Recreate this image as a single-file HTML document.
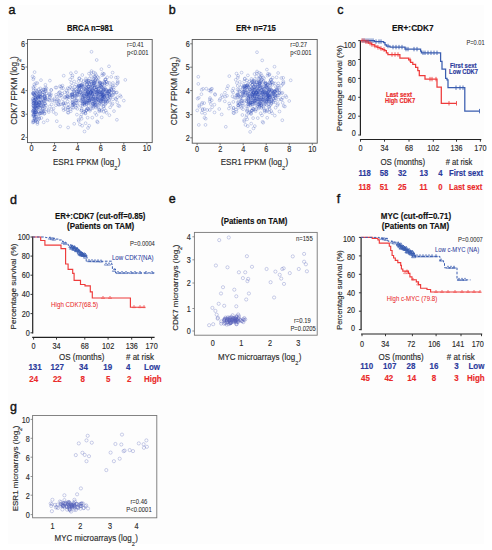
<!DOCTYPE html>
<html><head><meta charset="utf-8"><style>
html,body{margin:0;padding:0;background:#fff;}
svg{display:block;}
text{font-family:"Liberation Sans",sans-serif;}
</style></head><body>
<svg width="492" height="550" viewBox="0 0 492 550">
<rect x="0" y="0" width="492" height="550" fill="#fff"/>
<rect x="8" y="5" width="476" height="539" fill="#fdfdfd"/>
<text transform="translate(8.60,13.50) scale(1.0000,1)" font-size="12.50" fill="#111" stroke="#111" stroke-width="0.4">a</text>
<text transform="translate(168.80,13.60) scale(1.0000,1)" font-size="12.50" fill="#111" stroke="#111" stroke-width="0.4">b</text>
<text transform="translate(337.20,13.80) scale(1.0000,1)" font-size="12.50" fill="#111" stroke="#111" stroke-width="0.4">c</text>
<text transform="translate(10.00,203.50) scale(1.0000,1)" font-size="12.50" fill="#111" stroke="#111" stroke-width="0.4">d</text>
<text transform="translate(168.80,202.80) scale(1.0000,1)" font-size="12.50" fill="#111" stroke="#111" stroke-width="0.4">e</text>
<text transform="translate(336.80,203.20) scale(1.0000,1)" font-size="12.50" fill="#111" stroke="#111" stroke-width="0.4">f</text>
<text transform="translate(10.00,410.50) scale(1.0000,1)" font-size="12.50" fill="#111" stroke="#111" stroke-width="0.4">g</text>
<rect x="27.5" y="39.5" width="124.70" height="103.10" fill="none" stroke="#555" stroke-width="0.9"/>
<line x1="25.50" y1="43.60" x2="27.50" y2="43.60" stroke="#555" stroke-width="0.8"/>
<text transform="translate(25.10,46.50) scale(0.8273,1)" font-size="8.80" text-anchor="end" fill="#2b2b2b" stroke="#2b2b2b" stroke-width="0.15">6</text>
<line x1="25.50" y1="67.00" x2="27.50" y2="67.00" stroke="#555" stroke-width="0.8"/>
<text transform="translate(25.10,69.90) scale(0.8273,1)" font-size="8.80" text-anchor="end" fill="#2b2b2b" stroke="#2b2b2b" stroke-width="0.15">5</text>
<line x1="25.50" y1="90.60" x2="27.50" y2="90.60" stroke="#555" stroke-width="0.8"/>
<text transform="translate(25.10,93.50) scale(0.8273,1)" font-size="8.80" text-anchor="end" fill="#2b2b2b" stroke="#2b2b2b" stroke-width="0.15">4</text>
<line x1="25.50" y1="114.20" x2="27.50" y2="114.20" stroke="#555" stroke-width="0.8"/>
<text transform="translate(25.10,117.10) scale(0.8273,1)" font-size="8.80" text-anchor="end" fill="#2b2b2b" stroke="#2b2b2b" stroke-width="0.15">3</text>
<line x1="25.50" y1="137.40" x2="27.50" y2="137.40" stroke="#555" stroke-width="0.8"/>
<text transform="translate(25.10,140.30) scale(0.8273,1)" font-size="8.80" text-anchor="end" fill="#2b2b2b" stroke="#2b2b2b" stroke-width="0.15">2</text>
<line x1="31.40" y1="142.60" x2="31.40" y2="144.60" stroke="#555" stroke-width="0.8"/>
<text transform="translate(31.40,151.20) scale(0.8273,1)" font-size="8.80" text-anchor="middle" fill="#2b2b2b" stroke="#2b2b2b" stroke-width="0.15">0</text>
<line x1="54.50" y1="142.60" x2="54.50" y2="144.60" stroke="#555" stroke-width="0.8"/>
<text transform="translate(54.50,151.20) scale(0.8273,1)" font-size="8.80" text-anchor="middle" fill="#2b2b2b" stroke="#2b2b2b" stroke-width="0.15">2</text>
<line x1="77.60" y1="142.60" x2="77.60" y2="144.60" stroke="#555" stroke-width="0.8"/>
<text transform="translate(77.60,151.20) scale(0.8273,1)" font-size="8.80" text-anchor="middle" fill="#2b2b2b" stroke="#2b2b2b" stroke-width="0.15">4</text>
<line x1="100.70" y1="142.60" x2="100.70" y2="144.60" stroke="#555" stroke-width="0.8"/>
<text transform="translate(100.70,151.20) scale(0.8273,1)" font-size="8.80" text-anchor="middle" fill="#2b2b2b" stroke="#2b2b2b" stroke-width="0.15">6</text>
<line x1="123.80" y1="142.60" x2="123.80" y2="144.60" stroke="#555" stroke-width="0.8"/>
<text transform="translate(123.80,151.20) scale(0.8273,1)" font-size="8.80" text-anchor="middle" fill="#2b2b2b" stroke="#2b2b2b" stroke-width="0.15">8</text>
<line x1="146.90" y1="142.60" x2="146.90" y2="144.60" stroke="#555" stroke-width="0.8"/>
<text transform="translate(146.90,151.20) scale(0.8273,1)" font-size="8.80" text-anchor="middle" fill="#2b2b2b" stroke="#2b2b2b" stroke-width="0.15">10</text>
<text transform="translate(67.00,31.30) scale(0.9091,1)" font-size="8.47" font-weight="bold" fill="#111" stroke="#111" stroke-width="0.15">BRCA n=981</text>
<g fill="none" stroke="#3550b8" stroke-width="0.5" stroke-opacity="0.5"><circle cx="36.6" cy="116.6" r="1.4"/><circle cx="34.2" cy="94.8" r="1.4"/><circle cx="34.8" cy="117.7" r="1.4"/><circle cx="42.3" cy="99.9" r="1.4"/><circle cx="35.8" cy="116.5" r="1.4"/><circle cx="38.4" cy="97.6" r="1.4"/><circle cx="43.1" cy="89.5" r="1.4"/><circle cx="33.5" cy="105.6" r="1.4"/><circle cx="33.3" cy="79.3" r="1.4"/><circle cx="35.9" cy="112.3" r="1.4"/><circle cx="36.0" cy="103.6" r="1.4"/><circle cx="34.8" cy="108.0" r="1.4"/><circle cx="39.4" cy="101.9" r="1.4"/><circle cx="36.7" cy="93.8" r="1.4"/><circle cx="37.4" cy="122.2" r="1.4"/><circle cx="34.4" cy="118.6" r="1.4"/><circle cx="35.1" cy="119.1" r="1.4"/><circle cx="36.1" cy="112.2" r="1.4"/><circle cx="34.6" cy="72.1" r="1.4"/><circle cx="39.9" cy="96.3" r="1.4"/><circle cx="38.7" cy="107.4" r="1.4"/><circle cx="37.2" cy="105.5" r="1.4"/><circle cx="36.6" cy="103.6" r="1.4"/><circle cx="35.9" cy="99.0" r="1.4"/><circle cx="34.8" cy="86.1" r="1.4"/><circle cx="35.1" cy="97.8" r="1.4"/><circle cx="34.9" cy="95.2" r="1.4"/><circle cx="34.2" cy="94.7" r="1.4"/><circle cx="39.9" cy="92.1" r="1.4"/><circle cx="35.2" cy="103.2" r="1.4"/><circle cx="38.4" cy="97.0" r="1.4"/><circle cx="33.6" cy="88.4" r="1.4"/><circle cx="38.5" cy="99.1" r="1.4"/><circle cx="36.4" cy="101.8" r="1.4"/><circle cx="34.2" cy="102.8" r="1.4"/><circle cx="33.3" cy="114.6" r="1.4"/><circle cx="45.3" cy="98.8" r="1.4"/><circle cx="42.8" cy="94.9" r="1.4"/><circle cx="40.0" cy="96.9" r="1.4"/><circle cx="39.8" cy="102.8" r="1.4"/><circle cx="33.3" cy="87.1" r="1.4"/><circle cx="44.7" cy="111.4" r="1.4"/><circle cx="41.2" cy="102.2" r="1.4"/><circle cx="38.6" cy="96.0" r="1.4"/><circle cx="49.9" cy="80.6" r="1.4"/><circle cx="39.7" cy="102.8" r="1.4"/><circle cx="35.8" cy="103.3" r="1.4"/><circle cx="37.2" cy="105.7" r="1.4"/><circle cx="40.4" cy="93.6" r="1.4"/><circle cx="43.2" cy="104.0" r="1.4"/><circle cx="38.9" cy="112.1" r="1.4"/><circle cx="32.9" cy="93.6" r="1.4"/><circle cx="33.5" cy="122.2" r="1.4"/><circle cx="38.4" cy="102.2" r="1.4"/><circle cx="38.7" cy="89.3" r="1.4"/><circle cx="38.9" cy="104.5" r="1.4"/><circle cx="43.9" cy="106.1" r="1.4"/><circle cx="49.9" cy="96.6" r="1.4"/><circle cx="37.2" cy="94.7" r="1.4"/><circle cx="36.3" cy="108.6" r="1.4"/><circle cx="41.0" cy="80.1" r="1.4"/><circle cx="44.5" cy="103.5" r="1.4"/><circle cx="45.8" cy="105.4" r="1.4"/><circle cx="32.8" cy="111.3" r="1.4"/><circle cx="45.0" cy="97.5" r="1.4"/><circle cx="37.2" cy="98.1" r="1.4"/><circle cx="32.8" cy="122.5" r="1.4"/><circle cx="33.1" cy="110.6" r="1.4"/><circle cx="32.8" cy="98.8" r="1.4"/><circle cx="35.7" cy="96.8" r="1.4"/><circle cx="35.7" cy="107.8" r="1.4"/><circle cx="40.7" cy="100.3" r="1.4"/><circle cx="33.9" cy="109.3" r="1.4"/><circle cx="41.4" cy="118.0" r="1.4"/><circle cx="33.7" cy="90.3" r="1.4"/><circle cx="36.9" cy="109.3" r="1.4"/><circle cx="36.4" cy="102.9" r="1.4"/><circle cx="37.3" cy="83.1" r="1.4"/><circle cx="42.1" cy="112.2" r="1.4"/><circle cx="36.6" cy="90.7" r="1.4"/><circle cx="35.7" cy="120.4" r="1.4"/><circle cx="47.4" cy="120.4" r="1.4"/><circle cx="39.4" cy="93.5" r="1.4"/><circle cx="42.5" cy="106.3" r="1.4"/><circle cx="39.3" cy="105.8" r="1.4"/><circle cx="44.9" cy="98.7" r="1.4"/><circle cx="40.7" cy="113.5" r="1.4"/><circle cx="40.3" cy="88.4" r="1.4"/><circle cx="38.3" cy="119.7" r="1.4"/><circle cx="37.5" cy="96.2" r="1.4"/><circle cx="33.9" cy="111.4" r="1.4"/><circle cx="33.3" cy="116.3" r="1.4"/><circle cx="40.4" cy="92.3" r="1.4"/><circle cx="34.3" cy="84.3" r="1.4"/><circle cx="36.1" cy="105.9" r="1.4"/><circle cx="38.0" cy="105.8" r="1.4"/><circle cx="37.4" cy="122.1" r="1.4"/><circle cx="41.8" cy="90.4" r="1.4"/><circle cx="37.1" cy="91.4" r="1.4"/><circle cx="35.5" cy="111.6" r="1.4"/><circle cx="36.4" cy="108.3" r="1.4"/><circle cx="35.6" cy="121.2" r="1.4"/><circle cx="36.0" cy="104.6" r="1.4"/><circle cx="42.5" cy="109.2" r="1.4"/><circle cx="38.7" cy="102.8" r="1.4"/><circle cx="36.8" cy="92.6" r="1.4"/><circle cx="37.4" cy="124.0" r="1.4"/><circle cx="41.5" cy="111.4" r="1.4"/><circle cx="41.5" cy="101.2" r="1.4"/><circle cx="45.0" cy="97.0" r="1.4"/><circle cx="35.1" cy="97.5" r="1.4"/><circle cx="33.0" cy="112.0" r="1.4"/><circle cx="41.3" cy="97.0" r="1.4"/><circle cx="42.7" cy="94.6" r="1.4"/><circle cx="42.4" cy="110.4" r="1.4"/><circle cx="38.5" cy="105.6" r="1.4"/><circle cx="36.3" cy="112.1" r="1.4"/><circle cx="41.4" cy="102.3" r="1.4"/><circle cx="34.4" cy="112.7" r="1.4"/><circle cx="43.5" cy="112.1" r="1.4"/><circle cx="34.2" cy="93.8" r="1.4"/><circle cx="35.8" cy="102.3" r="1.4"/><circle cx="33.8" cy="102.6" r="1.4"/><circle cx="37.3" cy="107.9" r="1.4"/><circle cx="43.3" cy="110.9" r="1.4"/><circle cx="35.5" cy="99.3" r="1.4"/><circle cx="35.4" cy="106.7" r="1.4"/><circle cx="34.6" cy="101.1" r="1.4"/><circle cx="36.6" cy="102.6" r="1.4"/><circle cx="34.3" cy="111.9" r="1.4"/><circle cx="35.2" cy="114.4" r="1.4"/><circle cx="47.4" cy="95.8" r="1.4"/><circle cx="33.8" cy="107.2" r="1.4"/><circle cx="35.6" cy="110.7" r="1.4"/><circle cx="35.7" cy="93.5" r="1.4"/><circle cx="34.0" cy="106.0" r="1.4"/><circle cx="40.3" cy="105.8" r="1.4"/><circle cx="36.6" cy="108.5" r="1.4"/><circle cx="35.0" cy="117.0" r="1.4"/><circle cx="39.3" cy="118.3" r="1.4"/><circle cx="33.6" cy="101.1" r="1.4"/><circle cx="35.7" cy="90.2" r="1.4"/><circle cx="40.7" cy="97.2" r="1.4"/><circle cx="36.1" cy="119.8" r="1.4"/><circle cx="39.2" cy="113.7" r="1.4"/><circle cx="40.0" cy="91.8" r="1.4"/><circle cx="33.3" cy="94.2" r="1.4"/><circle cx="33.4" cy="108.4" r="1.4"/><circle cx="40.3" cy="107.8" r="1.4"/><circle cx="36.0" cy="114.4" r="1.4"/><circle cx="48.9" cy="99.7" r="1.4"/><circle cx="33.8" cy="77.7" r="1.4"/><circle cx="33.7" cy="121.5" r="1.4"/><circle cx="44.1" cy="113.8" r="1.4"/><circle cx="35.4" cy="98.9" r="1.4"/><circle cx="39.0" cy="95.4" r="1.4"/><circle cx="33.2" cy="120.6" r="1.4"/><circle cx="35.2" cy="106.9" r="1.4"/><circle cx="33.0" cy="103.3" r="1.4"/><circle cx="34.1" cy="102.7" r="1.4"/><circle cx="42.0" cy="113.4" r="1.4"/><circle cx="37.9" cy="101.0" r="1.4"/><circle cx="34.5" cy="120.3" r="1.4"/><circle cx="39.6" cy="96.5" r="1.4"/><circle cx="33.4" cy="93.8" r="1.4"/><circle cx="34.2" cy="100.6" r="1.4"/><circle cx="42.6" cy="102.4" r="1.4"/><circle cx="43.4" cy="108.5" r="1.4"/><circle cx="34.9" cy="112.3" r="1.4"/><circle cx="37.9" cy="97.6" r="1.4"/><circle cx="40.0" cy="108.2" r="1.4"/><circle cx="44.1" cy="92.6" r="1.4"/><circle cx="47.6" cy="99.6" r="1.4"/><circle cx="33.3" cy="92.8" r="1.4"/><circle cx="33.6" cy="110.5" r="1.4"/><circle cx="34.0" cy="115.9" r="1.4"/><circle cx="34.3" cy="106.4" r="1.4"/><circle cx="33.3" cy="92.9" r="1.4"/><circle cx="39.1" cy="118.9" r="1.4"/><circle cx="33.2" cy="115.1" r="1.4"/><circle cx="33.1" cy="105.9" r="1.4"/><circle cx="34.0" cy="114.4" r="1.4"/><circle cx="36.0" cy="83.1" r="1.4"/><circle cx="41.5" cy="105.9" r="1.4"/><circle cx="40.4" cy="97.2" r="1.4"/><circle cx="44.5" cy="96.1" r="1.4"/><circle cx="35.7" cy="113.1" r="1.4"/><circle cx="43.7" cy="99.7" r="1.4"/><circle cx="33.5" cy="99.9" r="1.4"/><circle cx="33.8" cy="104.2" r="1.4"/><circle cx="39.3" cy="102.1" r="1.4"/><circle cx="34.9" cy="107.9" r="1.4"/><circle cx="40.2" cy="113.0" r="1.4"/><circle cx="42.8" cy="92.0" r="1.4"/><circle cx="41.0" cy="96.1" r="1.4"/><circle cx="39.0" cy="104.6" r="1.4"/><circle cx="34.2" cy="114.9" r="1.4"/><circle cx="38.6" cy="111.8" r="1.4"/><circle cx="34.6" cy="110.3" r="1.4"/><circle cx="43.9" cy="100.6" r="1.4"/><circle cx="34.9" cy="112.4" r="1.4"/><circle cx="38.3" cy="96.5" r="1.4"/><circle cx="34.2" cy="100.1" r="1.4"/><circle cx="40.9" cy="105.6" r="1.4"/><circle cx="33.9" cy="97.5" r="1.4"/><circle cx="44.6" cy="113.4" r="1.4"/><circle cx="49.9" cy="97.6" r="1.4"/><circle cx="32.8" cy="100.6" r="1.4"/><circle cx="44.8" cy="103.5" r="1.4"/><circle cx="37.7" cy="104.8" r="1.4"/><circle cx="36.5" cy="99.5" r="1.4"/><circle cx="33.5" cy="103.3" r="1.4"/><circle cx="38.7" cy="116.8" r="1.4"/><circle cx="35.6" cy="98.0" r="1.4"/><circle cx="39.6" cy="113.5" r="1.4"/><circle cx="74.3" cy="91.2" r="1.4"/><circle cx="67.5" cy="92.1" r="1.4"/><circle cx="59.2" cy="100.9" r="1.4"/><circle cx="45.2" cy="103.7" r="1.4"/><circle cx="46.4" cy="88.3" r="1.4"/><circle cx="59.6" cy="96.2" r="1.4"/><circle cx="61.3" cy="95.4" r="1.4"/><circle cx="49.5" cy="94.4" r="1.4"/><circle cx="70.1" cy="79.4" r="1.4"/><circle cx="46.0" cy="99.9" r="1.4"/><circle cx="45.0" cy="89.7" r="1.4"/><circle cx="67.7" cy="101.5" r="1.4"/><circle cx="53.5" cy="108.6" r="1.4"/><circle cx="56.9" cy="96.6" r="1.4"/><circle cx="62.4" cy="85.6" r="1.4"/><circle cx="70.3" cy="97.6" r="1.4"/><circle cx="48.8" cy="112.0" r="1.4"/><circle cx="56.1" cy="94.8" r="1.4"/><circle cx="49.3" cy="93.6" r="1.4"/><circle cx="43.4" cy="90.0" r="1.4"/><circle cx="71.8" cy="94.5" r="1.4"/><circle cx="70.8" cy="111.2" r="1.4"/><circle cx="63.3" cy="108.1" r="1.4"/><circle cx="59.3" cy="92.3" r="1.4"/><circle cx="74.7" cy="96.5" r="1.4"/><circle cx="72.4" cy="104.8" r="1.4"/><circle cx="67.0" cy="96.0" r="1.4"/><circle cx="56.1" cy="114.0" r="1.4"/><circle cx="71.9" cy="89.2" r="1.4"/><circle cx="67.8" cy="107.6" r="1.4"/><circle cx="67.7" cy="109.9" r="1.4"/><circle cx="45.2" cy="91.2" r="1.4"/><circle cx="54.0" cy="99.9" r="1.4"/><circle cx="54.5" cy="98.5" r="1.4"/><circle cx="63.6" cy="103.1" r="1.4"/><circle cx="73.5" cy="103.0" r="1.4"/><circle cx="64.5" cy="105.2" r="1.4"/><circle cx="61.4" cy="88.2" r="1.4"/><circle cx="60.2" cy="126.4" r="1.4"/><circle cx="63.7" cy="75.7" r="1.4"/><circle cx="65.6" cy="97.0" r="1.4"/><circle cx="43.7" cy="122.3" r="1.4"/><circle cx="62.9" cy="99.2" r="1.4"/><circle cx="55.9" cy="105.2" r="1.4"/><circle cx="44.6" cy="96.0" r="1.4"/><circle cx="46.1" cy="91.0" r="1.4"/><circle cx="51.1" cy="89.9" r="1.4"/><circle cx="59.4" cy="104.7" r="1.4"/><circle cx="74.2" cy="123.8" r="1.4"/><circle cx="63.6" cy="110.1" r="1.4"/><circle cx="69.1" cy="88.6" r="1.4"/><circle cx="67.5" cy="93.5" r="1.4"/><circle cx="44.4" cy="94.2" r="1.4"/><circle cx="58.2" cy="100.8" r="1.4"/><circle cx="48.4" cy="110.3" r="1.4"/><circle cx="44.8" cy="98.4" r="1.4"/><circle cx="73.5" cy="107.8" r="1.4"/><circle cx="62.3" cy="93.8" r="1.4"/><circle cx="54.8" cy="101.5" r="1.4"/><circle cx="61.1" cy="86.7" r="1.4"/><circle cx="52.1" cy="100.2" r="1.4"/><circle cx="43.4" cy="105.6" r="1.4"/><circle cx="50.9" cy="94.0" r="1.4"/><circle cx="67.4" cy="97.4" r="1.4"/><circle cx="55.6" cy="87.5" r="1.4"/><circle cx="44.6" cy="107.1" r="1.4"/><circle cx="74.9" cy="95.6" r="1.4"/><circle cx="72.2" cy="99.8" r="1.4"/><circle cx="56.8" cy="121.2" r="1.4"/><circle cx="50.8" cy="95.5" r="1.4"/><circle cx="59.9" cy="86.2" r="1.4"/><circle cx="58.1" cy="103.9" r="1.4"/><circle cx="74.6" cy="94.0" r="1.4"/><circle cx="46.7" cy="109.2" r="1.4"/><circle cx="63.1" cy="104.2" r="1.4"/><circle cx="44.6" cy="97.1" r="1.4"/><circle cx="60.0" cy="92.2" r="1.4"/><circle cx="64.5" cy="92.3" r="1.4"/><circle cx="57.7" cy="99.6" r="1.4"/><circle cx="56.5" cy="87.6" r="1.4"/><circle cx="68.1" cy="127.5" r="1.4"/><circle cx="73.8" cy="104.3" r="1.4"/><circle cx="66.7" cy="98.4" r="1.4"/><circle cx="71.8" cy="94.6" r="1.4"/><circle cx="68.3" cy="104.3" r="1.4"/><circle cx="51.7" cy="104.3" r="1.4"/><circle cx="65.1" cy="109.1" r="1.4"/><circle cx="63.4" cy="103.2" r="1.4"/><circle cx="67.3" cy="96.3" r="1.4"/><circle cx="74.6" cy="92.8" r="1.4"/><circle cx="72.6" cy="97.0" r="1.4"/><circle cx="44.9" cy="100.4" r="1.4"/><circle cx="51.7" cy="109.2" r="1.4"/><circle cx="46.3" cy="93.4" r="1.4"/><circle cx="60.5" cy="95.5" r="1.4"/><circle cx="64.8" cy="97.1" r="1.4"/><circle cx="60.8" cy="104.3" r="1.4"/><circle cx="58.4" cy="104.7" r="1.4"/><circle cx="49.8" cy="106.5" r="1.4"/><circle cx="70.1" cy="87.1" r="1.4"/><circle cx="45.4" cy="87.5" r="1.4"/><circle cx="63.1" cy="88.2" r="1.4"/><circle cx="67.8" cy="96.7" r="1.4"/><circle cx="51.3" cy="90.1" r="1.4"/><circle cx="69.1" cy="107.1" r="1.4"/><circle cx="74.9" cy="89.7" r="1.4"/><circle cx="53.5" cy="112.0" r="1.4"/><circle cx="72.7" cy="102.9" r="1.4"/><circle cx="56.8" cy="101.3" r="1.4"/><circle cx="71.3" cy="95.9" r="1.4"/><circle cx="45.5" cy="89.3" r="1.4"/><circle cx="58.6" cy="93.3" r="1.4"/><circle cx="65.1" cy="103.1" r="1.4"/><circle cx="45.4" cy="84.8" r="1.4"/><circle cx="49.8" cy="100.5" r="1.4"/><circle cx="89.5" cy="99.8" r="1.4"/><circle cx="112.2" cy="95.0" r="1.4"/><circle cx="84.5" cy="89.3" r="1.4"/><circle cx="102.7" cy="94.6" r="1.4"/><circle cx="82.3" cy="83.8" r="1.4"/><circle cx="106.6" cy="112.8" r="1.4"/><circle cx="82.3" cy="75.0" r="1.4"/><circle cx="83.9" cy="111.6" r="1.4"/><circle cx="102.1" cy="96.2" r="1.4"/><circle cx="103.8" cy="111.7" r="1.4"/><circle cx="110.5" cy="86.6" r="1.4"/><circle cx="88.1" cy="100.8" r="1.4"/><circle cx="102.6" cy="99.7" r="1.4"/><circle cx="103.0" cy="98.1" r="1.4"/><circle cx="99.0" cy="109.8" r="1.4"/><circle cx="85.3" cy="113.1" r="1.4"/><circle cx="88.0" cy="100.4" r="1.4"/><circle cx="90.9" cy="93.3" r="1.4"/><circle cx="68.8" cy="97.1" r="1.4"/><circle cx="96.3" cy="106.2" r="1.4"/><circle cx="92.3" cy="117.7" r="1.4"/><circle cx="80.8" cy="105.8" r="1.4"/><circle cx="76.0" cy="84.5" r="1.4"/><circle cx="99.7" cy="92.6" r="1.4"/><circle cx="88.8" cy="80.6" r="1.4"/><circle cx="103.5" cy="89.8" r="1.4"/><circle cx="90.7" cy="98.1" r="1.4"/><circle cx="88.7" cy="95.0" r="1.4"/><circle cx="76.2" cy="95.7" r="1.4"/><circle cx="102.3" cy="92.1" r="1.4"/><circle cx="79.1" cy="94.7" r="1.4"/><circle cx="81.7" cy="108.9" r="1.4"/><circle cx="120.9" cy="96.8" r="1.4"/><circle cx="81.3" cy="110.7" r="1.4"/><circle cx="89.3" cy="100.3" r="1.4"/><circle cx="67.8" cy="112.4" r="1.4"/><circle cx="105.9" cy="102.6" r="1.4"/><circle cx="73.2" cy="89.8" r="1.4"/><circle cx="72.2" cy="77.4" r="1.4"/><circle cx="74.1" cy="103.8" r="1.4"/><circle cx="82.4" cy="99.7" r="1.4"/><circle cx="72.6" cy="105.3" r="1.4"/><circle cx="99.8" cy="83.7" r="1.4"/><circle cx="109.6" cy="83.0" r="1.4"/><circle cx="93.1" cy="90.9" r="1.4"/><circle cx="100.9" cy="100.7" r="1.4"/><circle cx="98.3" cy="90.3" r="1.4"/><circle cx="93.0" cy="96.0" r="1.4"/><circle cx="99.4" cy="103.8" r="1.4"/><circle cx="77.0" cy="94.3" r="1.4"/><circle cx="97.7" cy="106.3" r="1.4"/><circle cx="97.9" cy="91.5" r="1.4"/><circle cx="92.0" cy="89.4" r="1.4"/><circle cx="98.7" cy="92.2" r="1.4"/><circle cx="102.5" cy="96.0" r="1.4"/><circle cx="77.8" cy="94.7" r="1.4"/><circle cx="101.4" cy="94.5" r="1.4"/><circle cx="101.1" cy="93.0" r="1.4"/><circle cx="83.3" cy="112.5" r="1.4"/><circle cx="87.1" cy="102.4" r="1.4"/><circle cx="95.0" cy="77.4" r="1.4"/><circle cx="76.3" cy="102.7" r="1.4"/><circle cx="106.6" cy="81.9" r="1.4"/><circle cx="90.1" cy="93.9" r="1.4"/><circle cx="97.6" cy="77.0" r="1.4"/><circle cx="86.7" cy="103.9" r="1.4"/><circle cx="103.6" cy="101.0" r="1.4"/><circle cx="92.8" cy="79.8" r="1.4"/><circle cx="92.7" cy="94.1" r="1.4"/><circle cx="95.6" cy="103.3" r="1.4"/><circle cx="95.8" cy="89.4" r="1.4"/><circle cx="75.4" cy="100.5" r="1.4"/><circle cx="89.4" cy="89.8" r="1.4"/><circle cx="102.7" cy="94.4" r="1.4"/><circle cx="118.2" cy="105.6" r="1.4"/><circle cx="92.0" cy="86.6" r="1.4"/><circle cx="93.4" cy="99.7" r="1.4"/><circle cx="92.3" cy="94.2" r="1.4"/><circle cx="93.1" cy="85.9" r="1.4"/><circle cx="72.6" cy="94.5" r="1.4"/><circle cx="89.2" cy="96.5" r="1.4"/><circle cx="112.9" cy="83.0" r="1.4"/><circle cx="101.7" cy="117.4" r="1.4"/><circle cx="99.7" cy="110.2" r="1.4"/><circle cx="81.4" cy="101.1" r="1.4"/><circle cx="114.0" cy="111.1" r="1.4"/><circle cx="107.2" cy="77.3" r="1.4"/><circle cx="106.0" cy="89.7" r="1.4"/><circle cx="108.4" cy="98.3" r="1.4"/><circle cx="92.6" cy="90.1" r="1.4"/><circle cx="84.7" cy="96.5" r="1.4"/><circle cx="98.2" cy="97.5" r="1.4"/><circle cx="106.6" cy="94.9" r="1.4"/><circle cx="82.6" cy="97.1" r="1.4"/><circle cx="88.5" cy="103.3" r="1.4"/><circle cx="102.1" cy="75.2" r="1.4"/><circle cx="89.1" cy="95.5" r="1.4"/><circle cx="92.2" cy="105.4" r="1.4"/><circle cx="107.1" cy="91.8" r="1.4"/><circle cx="109.4" cy="93.9" r="1.4"/><circle cx="94.2" cy="76.5" r="1.4"/><circle cx="92.6" cy="90.6" r="1.4"/><circle cx="109.9" cy="94.9" r="1.4"/><circle cx="105.2" cy="101.0" r="1.4"/><circle cx="91.2" cy="99.5" r="1.4"/><circle cx="104.1" cy="96.9" r="1.4"/><circle cx="85.7" cy="90.0" r="1.4"/><circle cx="112.5" cy="103.6" r="1.4"/><circle cx="119.4" cy="106.1" r="1.4"/><circle cx="86.3" cy="103.9" r="1.4"/><circle cx="113.6" cy="87.6" r="1.4"/><circle cx="97.4" cy="81.5" r="1.4"/><circle cx="104.0" cy="94.7" r="1.4"/><circle cx="86.4" cy="110.2" r="1.4"/><circle cx="107.1" cy="96.4" r="1.4"/><circle cx="90.9" cy="93.6" r="1.4"/><circle cx="100.8" cy="86.3" r="1.4"/><circle cx="102.5" cy="73.4" r="1.4"/><circle cx="105.8" cy="103.5" r="1.4"/><circle cx="100.2" cy="103.6" r="1.4"/><circle cx="77.2" cy="91.6" r="1.4"/><circle cx="83.0" cy="100.2" r="1.4"/><circle cx="104.7" cy="83.1" r="1.4"/><circle cx="95.0" cy="102.7" r="1.4"/><circle cx="98.2" cy="107.7" r="1.4"/><circle cx="91.9" cy="95.5" r="1.4"/><circle cx="88.4" cy="86.8" r="1.4"/><circle cx="90.4" cy="98.3" r="1.4"/><circle cx="83.4" cy="87.0" r="1.4"/><circle cx="99.2" cy="111.4" r="1.4"/><circle cx="88.3" cy="98.4" r="1.4"/><circle cx="96.5" cy="115.0" r="1.4"/><circle cx="83.0" cy="98.0" r="1.4"/><circle cx="87.1" cy="94.8" r="1.4"/><circle cx="85.6" cy="123.2" r="1.4"/><circle cx="74.6" cy="97.6" r="1.4"/><circle cx="97.9" cy="99.3" r="1.4"/><circle cx="109.8" cy="97.2" r="1.4"/><circle cx="95.4" cy="90.1" r="1.4"/><circle cx="94.3" cy="81.2" r="1.4"/><circle cx="90.2" cy="102.8" r="1.4"/><circle cx="104.1" cy="97.1" r="1.4"/><circle cx="87.7" cy="93.6" r="1.4"/><circle cx="100.2" cy="94.4" r="1.4"/><circle cx="106.3" cy="99.9" r="1.4"/><circle cx="79.3" cy="100.3" r="1.4"/><circle cx="91.4" cy="72.9" r="1.4"/><circle cx="116.1" cy="92.8" r="1.4"/><circle cx="88.8" cy="97.6" r="1.4"/><circle cx="98.3" cy="100.9" r="1.4"/><circle cx="101.0" cy="97.8" r="1.4"/><circle cx="73.3" cy="104.5" r="1.4"/><circle cx="99.8" cy="82.1" r="1.4"/><circle cx="96.5" cy="92.7" r="1.4"/><circle cx="109.0" cy="66.3" r="1.4"/><circle cx="110.3" cy="97.8" r="1.4"/><circle cx="87.4" cy="81.0" r="1.4"/><circle cx="92.9" cy="103.9" r="1.4"/><circle cx="75.4" cy="105.7" r="1.4"/><circle cx="101.8" cy="92.6" r="1.4"/><circle cx="87.2" cy="93.7" r="1.4"/><circle cx="81.9" cy="87.0" r="1.4"/><circle cx="100.5" cy="82.9" r="1.4"/><circle cx="92.4" cy="81.6" r="1.4"/><circle cx="85.2" cy="82.7" r="1.4"/><circle cx="111.3" cy="88.9" r="1.4"/><circle cx="112.6" cy="72.6" r="1.4"/><circle cx="82.7" cy="101.8" r="1.4"/><circle cx="79.4" cy="88.3" r="1.4"/><circle cx="86.2" cy="110.3" r="1.4"/><circle cx="93.9" cy="105.5" r="1.4"/><circle cx="116.9" cy="92.4" r="1.4"/><circle cx="101.4" cy="101.3" r="1.4"/><circle cx="79.4" cy="90.5" r="1.4"/><circle cx="106.0" cy="99.6" r="1.4"/><circle cx="81.0" cy="97.1" r="1.4"/><circle cx="102.6" cy="98.1" r="1.4"/><circle cx="112.1" cy="86.9" r="1.4"/><circle cx="109.7" cy="101.9" r="1.4"/><circle cx="77.2" cy="105.3" r="1.4"/><circle cx="88.3" cy="82.3" r="1.4"/><circle cx="99.4" cy="91.4" r="1.4"/><circle cx="80.2" cy="91.7" r="1.4"/><circle cx="90.6" cy="92.5" r="1.4"/><circle cx="88.7" cy="106.0" r="1.4"/><circle cx="94.5" cy="85.7" r="1.4"/><circle cx="86.7" cy="90.4" r="1.4"/><circle cx="118.0" cy="82.6" r="1.4"/><circle cx="111.3" cy="95.4" r="1.4"/><circle cx="102.2" cy="100.9" r="1.4"/><circle cx="96.7" cy="100.4" r="1.4"/><circle cx="93.4" cy="106.9" r="1.4"/><circle cx="98.3" cy="96.2" r="1.4"/><circle cx="95.4" cy="98.9" r="1.4"/><circle cx="86.8" cy="87.5" r="1.4"/><circle cx="93.8" cy="96.8" r="1.4"/><circle cx="104.0" cy="73.8" r="1.4"/><circle cx="103.6" cy="89.2" r="1.4"/><circle cx="82.6" cy="103.4" r="1.4"/><circle cx="106.4" cy="90.5" r="1.4"/><circle cx="94.6" cy="87.3" r="1.4"/><circle cx="87.6" cy="117.7" r="1.4"/><circle cx="94.1" cy="83.1" r="1.4"/><circle cx="91.8" cy="92.1" r="1.4"/><circle cx="103.5" cy="74.6" r="1.4"/><circle cx="81.7" cy="89.1" r="1.4"/><circle cx="115.6" cy="98.7" r="1.4"/><circle cx="104.7" cy="83.5" r="1.4"/><circle cx="115.8" cy="85.3" r="1.4"/><circle cx="93.5" cy="98.5" r="1.4"/><circle cx="87.9" cy="92.4" r="1.4"/><circle cx="91.1" cy="82.0" r="1.4"/><circle cx="105.8" cy="101.1" r="1.4"/><circle cx="117.8" cy="81.1" r="1.4"/><circle cx="79.8" cy="85.5" r="1.4"/><circle cx="107.8" cy="82.8" r="1.4"/><circle cx="88.8" cy="88.5" r="1.4"/><circle cx="97.9" cy="99.2" r="1.4"/><circle cx="111.6" cy="90.3" r="1.4"/><circle cx="101.0" cy="92.1" r="1.4"/><circle cx="111.6" cy="89.9" r="1.4"/><circle cx="82.4" cy="106.0" r="1.4"/><circle cx="72.3" cy="102.3" r="1.4"/><circle cx="89.1" cy="101.7" r="1.4"/><circle cx="120.1" cy="95.4" r="1.4"/><circle cx="85.3" cy="97.7" r="1.4"/><circle cx="89.7" cy="84.0" r="1.4"/><circle cx="92.4" cy="106.2" r="1.4"/><circle cx="91.1" cy="81.6" r="1.4"/><circle cx="98.4" cy="95.3" r="1.4"/><circle cx="102.8" cy="91.8" r="1.4"/><circle cx="88.9" cy="98.3" r="1.4"/><circle cx="113.6" cy="91.9" r="1.4"/><circle cx="103.6" cy="99.2" r="1.4"/><circle cx="91.5" cy="71.1" r="1.4"/><circle cx="72.1" cy="85.6" r="1.4"/><circle cx="96.6" cy="93.8" r="1.4"/><circle cx="81.8" cy="84.9" r="1.4"/><circle cx="87.6" cy="89.4" r="1.4"/><circle cx="107.7" cy="98.4" r="1.4"/><circle cx="84.7" cy="104.4" r="1.4"/><circle cx="76.0" cy="107.6" r="1.4"/><circle cx="92.3" cy="85.9" r="1.4"/><circle cx="78.6" cy="119.7" r="1.4"/><circle cx="89.9" cy="86.6" r="1.4"/><circle cx="112.5" cy="85.4" r="1.4"/><circle cx="108.1" cy="91.7" r="1.4"/><circle cx="106.8" cy="90.3" r="1.4"/><circle cx="72.7" cy="94.4" r="1.4"/><circle cx="85.2" cy="102.0" r="1.4"/><circle cx="94.4" cy="104.2" r="1.4"/><circle cx="86.9" cy="81.9" r="1.4"/><circle cx="97.4" cy="96.6" r="1.4"/><circle cx="78.3" cy="91.4" r="1.4"/><circle cx="88.3" cy="93.6" r="1.4"/><circle cx="95.6" cy="104.5" r="1.4"/><circle cx="94.1" cy="101.3" r="1.4"/><circle cx="97.2" cy="92.6" r="1.4"/><circle cx="89.3" cy="83.9" r="1.4"/><circle cx="85.1" cy="111.8" r="1.4"/><circle cx="88.0" cy="94.3" r="1.4"/><circle cx="100.6" cy="94.5" r="1.4"/><circle cx="97.1" cy="99.2" r="1.4"/><circle cx="109.3" cy="100.2" r="1.4"/><circle cx="92.3" cy="97.9" r="1.4"/><circle cx="91.0" cy="91.8" r="1.4"/><circle cx="87.0" cy="95.0" r="1.4"/><circle cx="100.9" cy="100.2" r="1.4"/><circle cx="72.5" cy="95.5" r="1.4"/><circle cx="89.6" cy="102.5" r="1.4"/><circle cx="99.9" cy="88.0" r="1.4"/><circle cx="125.3" cy="79.9" r="1.4"/><circle cx="97.4" cy="91.7" r="1.4"/><circle cx="102.0" cy="84.7" r="1.4"/><circle cx="93.7" cy="96.9" r="1.4"/><circle cx="95.3" cy="73.3" r="1.4"/><circle cx="101.4" cy="85.7" r="1.4"/><circle cx="90.0" cy="84.6" r="1.4"/><circle cx="96.6" cy="92.6" r="1.4"/><circle cx="114.4" cy="92.5" r="1.4"/><circle cx="92.9" cy="101.3" r="1.4"/><circle cx="93.5" cy="81.7" r="1.4"/><circle cx="94.5" cy="83.1" r="1.4"/><circle cx="104.3" cy="96.9" r="1.4"/><circle cx="76.0" cy="72.2" r="1.4"/><circle cx="91.1" cy="96.2" r="1.4"/><circle cx="79.4" cy="87.4" r="1.4"/><circle cx="104.1" cy="89.8" r="1.4"/><circle cx="85.5" cy="113.5" r="1.4"/><circle cx="72.5" cy="107.4" r="1.4"/><circle cx="82.0" cy="93.0" r="1.4"/><circle cx="100.3" cy="101.5" r="1.4"/><circle cx="95.4" cy="100.7" r="1.4"/><circle cx="89.3" cy="89.5" r="1.4"/><circle cx="86.9" cy="96.6" r="1.4"/><circle cx="96.2" cy="87.3" r="1.4"/><circle cx="83.6" cy="93.5" r="1.4"/><circle cx="106.3" cy="101.3" r="1.4"/><circle cx="72.0" cy="93.6" r="1.4"/><circle cx="105.2" cy="79.4" r="1.4"/><circle cx="102.0" cy="98.4" r="1.4"/><circle cx="101.1" cy="87.2" r="1.4"/><circle cx="94.7" cy="94.8" r="1.4"/><circle cx="105.9" cy="79.1" r="1.4"/><circle cx="84.9" cy="96.1" r="1.4"/><circle cx="105.2" cy="79.8" r="1.4"/><circle cx="117.2" cy="102.4" r="1.4"/><circle cx="109.7" cy="96.1" r="1.4"/><circle cx="67.7" cy="88.2" r="1.4"/><circle cx="95.1" cy="97.1" r="1.4"/><circle cx="97.1" cy="87.3" r="1.4"/><circle cx="86.5" cy="93.3" r="1.4"/><circle cx="79.2" cy="86.3" r="1.4"/><circle cx="97.9" cy="93.5" r="1.4"/><circle cx="97.3" cy="86.1" r="1.4"/><circle cx="107.0" cy="84.4" r="1.4"/><circle cx="95.9" cy="104.9" r="1.4"/><circle cx="100.8" cy="83.3" r="1.4"/><circle cx="108.1" cy="93.7" r="1.4"/><circle cx="113.2" cy="95.0" r="1.4"/><circle cx="87.9" cy="92.5" r="1.4"/><circle cx="103.2" cy="95.5" r="1.4"/><circle cx="81.7" cy="110.3" r="1.4"/><circle cx="109.7" cy="91.3" r="1.4"/><circle cx="103.7" cy="97.0" r="1.4"/><circle cx="100.8" cy="91.3" r="1.4"/><circle cx="94.5" cy="102.8" r="1.4"/><circle cx="82.3" cy="85.6" r="1.4"/><circle cx="88.4" cy="80.7" r="1.4"/><circle cx="101.2" cy="96.7" r="1.4"/><circle cx="87.1" cy="108.4" r="1.4"/><circle cx="117.2" cy="97.3" r="1.4"/><circle cx="95.4" cy="80.1" r="1.4"/><circle cx="104.6" cy="87.5" r="1.4"/><circle cx="90.4" cy="92.3" r="1.4"/><circle cx="85.7" cy="89.1" r="1.4"/><circle cx="83.9" cy="95.0" r="1.4"/><circle cx="100.5" cy="85.1" r="1.4"/><circle cx="86.5" cy="93.9" r="1.4"/><circle cx="89.2" cy="100.9" r="1.4"/><circle cx="103.0" cy="88.2" r="1.4"/><circle cx="87.6" cy="92.1" r="1.4"/><circle cx="77.4" cy="103.4" r="1.4"/><circle cx="76.0" cy="101.0" r="1.4"/><circle cx="105.7" cy="91.5" r="1.4"/><circle cx="90.9" cy="91.8" r="1.4"/><circle cx="90.4" cy="92.6" r="1.4"/><circle cx="77.7" cy="95.4" r="1.4"/><circle cx="83.2" cy="93.5" r="1.4"/><circle cx="93.7" cy="92.0" r="1.4"/><circle cx="79.1" cy="78.6" r="1.4"/><circle cx="85.1" cy="98.1" r="1.4"/><circle cx="89.9" cy="100.0" r="1.4"/><circle cx="77.3" cy="93.2" r="1.4"/><circle cx="104.8" cy="95.6" r="1.4"/><circle cx="68.1" cy="107.6" r="1.4"/><circle cx="96.1" cy="107.6" r="1.4"/><circle cx="84.7" cy="102.0" r="1.4"/><circle cx="85.4" cy="91.0" r="1.4"/><circle cx="105.7" cy="110.7" r="1.4"/><circle cx="74.2" cy="81.5" r="1.4"/><circle cx="100.1" cy="92.2" r="1.4"/><circle cx="83.4" cy="95.6" r="1.4"/><circle cx="72.5" cy="75.5" r="1.4"/><circle cx="98.4" cy="88.5" r="1.4"/><circle cx="96.2" cy="79.1" r="1.4"/><circle cx="93.8" cy="93.7" r="1.4"/><circle cx="82.1" cy="98.0" r="1.4"/><circle cx="94.7" cy="82.6" r="1.4"/><circle cx="84.8" cy="105.1" r="1.4"/><circle cx="82.7" cy="104.2" r="1.4"/><circle cx="109.4" cy="115.2" r="1.4"/><circle cx="88.2" cy="86.8" r="1.4"/><circle cx="101.7" cy="98.9" r="1.4"/><circle cx="89.8" cy="109.4" r="1.4"/><circle cx="81.6" cy="118.8" r="1.4"/><circle cx="97.0" cy="99.0" r="1.4"/><circle cx="83.6" cy="103.1" r="1.4"/><circle cx="83.0" cy="98.9" r="1.4"/><circle cx="89.3" cy="78.6" r="1.4"/><circle cx="85.1" cy="96.6" r="1.4"/><circle cx="93.8" cy="85.4" r="1.4"/><circle cx="100.2" cy="82.9" r="1.4"/><circle cx="96.9" cy="91.3" r="1.4"/><circle cx="98.9" cy="91.7" r="1.4"/><circle cx="92.1" cy="98.9" r="1.4"/><circle cx="73.9" cy="91.1" r="1.4"/><circle cx="86.6" cy="94.2" r="1.4"/><circle cx="110.1" cy="107.3" r="1.4"/><circle cx="102.5" cy="90.8" r="1.4"/><circle cx="72.2" cy="97.2" r="1.4"/><circle cx="78.8" cy="85.9" r="1.4"/><circle cx="93.6" cy="78.5" r="1.4"/><circle cx="88.7" cy="86.8" r="1.4"/><circle cx="95.1" cy="112.9" r="1.4"/><circle cx="101.2" cy="104.6" r="1.4"/><circle cx="77.1" cy="88.4" r="1.4"/><circle cx="77.4" cy="108.8" r="1.4"/><circle cx="95.8" cy="98.8" r="1.4"/><circle cx="80.9" cy="85.2" r="1.4"/><circle cx="94.7" cy="87.8" r="1.4"/><circle cx="109.8" cy="91.4" r="1.4"/><circle cx="123.8" cy="100.6" r="1.4"/><circle cx="106.1" cy="81.7" r="1.4"/><circle cx="78.8" cy="88.9" r="1.4"/><circle cx="71.3" cy="82.6" r="1.4"/><circle cx="97.6" cy="94.0" r="1.4"/><circle cx="92.4" cy="99.1" r="1.4"/><circle cx="103.4" cy="91.0" r="1.4"/><circle cx="89.2" cy="125.7" r="1.4"/><circle cx="101.7" cy="87.3" r="1.4"/><circle cx="108.7" cy="90.6" r="1.4"/><circle cx="82.1" cy="94.3" r="1.4"/><circle cx="85.9" cy="78.5" r="1.4"/><circle cx="99.0" cy="100.4" r="1.4"/><circle cx="80.7" cy="86.9" r="1.4"/><circle cx="97.1" cy="121.4" r="1.4"/><circle cx="79.4" cy="85.9" r="1.4"/><circle cx="72.9" cy="101.3" r="1.4"/><circle cx="98.3" cy="88.8" r="1.4"/><circle cx="115.9" cy="77.6" r="1.4"/><circle cx="93.6" cy="82.7" r="1.4"/><circle cx="101.6" cy="87.4" r="1.4"/><circle cx="109.3" cy="91.0" r="1.4"/><circle cx="104.3" cy="82.2" r="1.4"/><circle cx="92.5" cy="87.3" r="1.4"/><circle cx="82.3" cy="94.3" r="1.4"/><circle cx="93.5" cy="91.0" r="1.4"/><circle cx="117.3" cy="83.6" r="1.4"/><circle cx="92.0" cy="90.6" r="1.4"/><circle cx="99.5" cy="83.2" r="1.4"/><circle cx="101.9" cy="93.4" r="1.4"/><circle cx="103.1" cy="101.6" r="1.4"/><circle cx="74.9" cy="86.9" r="1.4"/><circle cx="90.5" cy="92.4" r="1.4"/><circle cx="76.9" cy="100.3" r="1.4"/><circle cx="86.8" cy="100.4" r="1.4"/><circle cx="116.3" cy="99.2" r="1.4"/><circle cx="106.9" cy="93.2" r="1.4"/><circle cx="103.6" cy="106.8" r="1.4"/><circle cx="95.0" cy="92.0" r="1.4"/><circle cx="96.7" cy="89.5" r="1.4"/><circle cx="104.0" cy="88.9" r="1.4"/><circle cx="94.0" cy="102.6" r="1.4"/><circle cx="92.0" cy="94.4" r="1.4"/><circle cx="101.4" cy="69.2" r="1.4"/><circle cx="108.6" cy="91.8" r="1.4"/><circle cx="101.7" cy="109.6" r="1.4"/><circle cx="92.6" cy="104.1" r="1.4"/><circle cx="101.2" cy="110.8" r="1.4"/><circle cx="97.7" cy="122.3" r="1.4"/><circle cx="117.7" cy="77.4" r="1.4"/><circle cx="78.3" cy="86.8" r="1.4"/><circle cx="93.7" cy="72.5" r="1.4"/><circle cx="109.5" cy="90.6" r="1.4"/><circle cx="95.5" cy="84.3" r="1.4"/><circle cx="81.7" cy="84.8" r="1.4"/><circle cx="98.1" cy="102.4" r="1.4"/><circle cx="86.4" cy="101.9" r="1.4"/><circle cx="89.0" cy="73.6" r="1.4"/><circle cx="91.4" cy="90.4" r="1.4"/><circle cx="83.6" cy="81.2" r="1.4"/><circle cx="98.6" cy="77.9" r="1.4"/><circle cx="76.2" cy="100.2" r="1.4"/><circle cx="96.3" cy="89.7" r="1.4"/><circle cx="100.8" cy="86.3" r="1.4"/><circle cx="92.3" cy="93.7" r="1.4"/><circle cx="81.4" cy="95.5" r="1.4"/><circle cx="87.2" cy="83.8" r="1.4"/><circle cx="101.6" cy="95.3" r="1.4"/><circle cx="101.6" cy="99.3" r="1.4"/><circle cx="93.9" cy="98.8" r="1.4"/><circle cx="106.6" cy="93.7" r="1.4"/><circle cx="102.1" cy="94.9" r="1.4"/><circle cx="77.9" cy="87.3" r="1.4"/><circle cx="98.0" cy="86.6" r="1.4"/><circle cx="80.8" cy="116.9" r="1.4"/><circle cx="90.4" cy="88.8" r="1.4"/><circle cx="70.9" cy="73.2" r="1.4"/><circle cx="104.0" cy="81.9" r="1.4"/><circle cx="81.2" cy="85.6" r="1.4"/><circle cx="97.7" cy="80.5" r="1.4"/><circle cx="111.9" cy="104.9" r="1.4"/><circle cx="83.8" cy="103.6" r="1.4"/><circle cx="88.3" cy="96.7" r="1.4"/><circle cx="103.5" cy="106.0" r="1.4"/><circle cx="76.6" cy="91.7" r="1.4"/><circle cx="83.3" cy="90.5" r="1.4"/><circle cx="95.8" cy="80.7" r="1.4"/><circle cx="80.7" cy="100.7" r="1.4"/><circle cx="110.5" cy="89.7" r="1.4"/><circle cx="78.4" cy="91.4" r="1.4"/><circle cx="70.5" cy="109.3" r="1.4"/><circle cx="101.7" cy="84.3" r="1.4"/><circle cx="113.6" cy="92.8" r="1.4"/><circle cx="86.1" cy="80.1" r="1.4"/><circle cx="106.0" cy="93.6" r="1.4"/><circle cx="98.0" cy="97.5" r="1.4"/><circle cx="107.8" cy="93.4" r="1.4"/><circle cx="96.1" cy="75.1" r="1.4"/><circle cx="76.9" cy="114.6" r="1.4"/><circle cx="104.1" cy="108.6" r="1.4"/><circle cx="91.0" cy="76.1" r="1.4"/><circle cx="103.5" cy="94.9" r="1.4"/><circle cx="84.8" cy="91.2" r="1.4"/><circle cx="81.3" cy="114.6" r="1.4"/><circle cx="88.3" cy="92.0" r="1.4"/><circle cx="103.0" cy="95.6" r="1.4"/><circle cx="90.0" cy="110.8" r="1.4"/><circle cx="86.5" cy="102.2" r="1.4"/><circle cx="94.3" cy="88.1" r="1.4"/><circle cx="71.1" cy="94.8" r="1.4"/><circle cx="78.6" cy="81.1" r="1.4"/><circle cx="81.7" cy="89.9" r="1.4"/><circle cx="103.2" cy="91.0" r="1.4"/><circle cx="95.7" cy="105.1" r="1.4"/><circle cx="113.8" cy="89.6" r="1.4"/><circle cx="88.5" cy="90.6" r="1.4"/><circle cx="104.7" cy="85.1" r="1.4"/><circle cx="80.1" cy="92.4" r="1.4"/><circle cx="91.1" cy="87.7" r="1.4"/><circle cx="93.1" cy="108.1" r="1.4"/><circle cx="75.8" cy="96.9" r="1.4"/><circle cx="85.8" cy="100.1" r="1.4"/><circle cx="82.6" cy="86.3" r="1.4"/><circle cx="94.8" cy="99.6" r="1.4"/><circle cx="109.4" cy="94.9" r="1.4"/><circle cx="110.0" cy="94.6" r="1.4"/><circle cx="86.6" cy="84.4" r="1.4"/><circle cx="107.2" cy="97.8" r="1.4"/><circle cx="95.1" cy="76.5" r="1.4"/><circle cx="113.0" cy="99.3" r="1.4"/><circle cx="86.5" cy="84.3" r="1.4"/><circle cx="86.7" cy="109.9" r="1.4"/><circle cx="87.1" cy="88.3" r="1.4"/><circle cx="88.1" cy="91.7" r="1.4"/><circle cx="85.1" cy="102.6" r="1.4"/><circle cx="99.1" cy="102.7" r="1.4"/><circle cx="79.9" cy="92.4" r="1.4"/><circle cx="104.2" cy="96.3" r="1.4"/><circle cx="91.2" cy="101.3" r="1.4"/><circle cx="85.0" cy="98.9" r="1.4"/><circle cx="100.7" cy="99.2" r="1.4"/><circle cx="104.9" cy="104.7" r="1.4"/><circle cx="66.6" cy="90.5" r="1.4"/><circle cx="78.6" cy="85.1" r="1.4"/><circle cx="83.1" cy="101.6" r="1.4"/><circle cx="105.4" cy="88.9" r="1.4"/><circle cx="91.2" cy="84.0" r="1.4"/><circle cx="103.5" cy="95.5" r="1.4"/><circle cx="87.6" cy="108.6" r="1.4"/><circle cx="94.2" cy="84.0" r="1.4"/><circle cx="111.2" cy="76.9" r="1.4"/><circle cx="93.6" cy="83.9" r="1.4"/><circle cx="81.5" cy="80.1" r="1.4"/><circle cx="103.3" cy="103.8" r="1.4"/><circle cx="88.4" cy="96.0" r="1.4"/><circle cx="97.9" cy="96.3" r="1.4"/><circle cx="86.1" cy="87.7" r="1.4"/><circle cx="90.7" cy="108.9" r="1.4"/><circle cx="79.4" cy="78.1" r="1.4"/><circle cx="96.3" cy="94.5" r="1.4"/><circle cx="84.6" cy="103.3" r="1.4"/><circle cx="85.0" cy="86.6" r="1.4"/><circle cx="86.5" cy="81.4" r="1.4"/><circle cx="68.4" cy="112.8" r="1.4"/><circle cx="88.2" cy="109.3" r="1.4"/><circle cx="107.7" cy="101.7" r="1.4"/><circle cx="78.5" cy="92.0" r="1.4"/><circle cx="93.7" cy="103.8" r="1.4"/><circle cx="91.5" cy="51.8" r="1.4"/><circle cx="96.7" cy="60.0" r="1.4"/><circle cx="82.2" cy="125.7" r="1.4"/><circle cx="84.5" cy="131.5" r="1.4"/><circle cx="78.8" cy="121.0" r="1.4"/><circle cx="116.9" cy="119.8" r="1.4"/><circle cx="88.0" cy="128.0" r="1.4"/><circle cx="79.9" cy="124.5" r="1.4"/><circle cx="32.6" cy="76.4" r="1.4"/></g>
<text transform="translate(127.00,47.10) scale(0.9091,1)" font-size="6.49" fill="#2b2b2b" stroke="#2b2b2b" stroke-width="0.05">r=0.41</text>
<text transform="translate(127.00,54.80) scale(0.9091,1)" font-size="6.49" fill="#2b2b2b" stroke="#2b2b2b" stroke-width="0.05">p&lt;0.001</text>
<text transform="translate(52.90,165.00) scale(0.9091,1)" font-size="8.86" fill="#2b2b2b" stroke="#2b2b2b" stroke-width="0.15">ESR1 FPKM (log<tspan font-size="6.20" dx="0.2" dy="4.6">2</tspan><tspan dx="0.3" dy="-4.6">)</tspan></text>
<text transform="translate(17.20,90.50) rotate(-90)" x="0" y="0" font-size="8.2" text-anchor="middle" fill="#2b2b2b" stroke="#2b2b2b" stroke-width="0.15">CDK7 FPKM (log<tspan font-size="5.74" dx="-0.2" dy="3.3">2</tspan><tspan dx="-0.2" dy="-3.3">)</tspan></text>
<rect x="192.2" y="39.5" width="125.00" height="103.70" fill="none" stroke="#555" stroke-width="0.9"/>
<line x1="190.20" y1="43.80" x2="192.20" y2="43.80" stroke="#555" stroke-width="0.8"/>
<text transform="translate(189.80,46.70) scale(0.8273,1)" font-size="8.80" text-anchor="end" fill="#2b2b2b" stroke="#2b2b2b" stroke-width="0.15">6</text>
<line x1="190.20" y1="67.20" x2="192.20" y2="67.20" stroke="#555" stroke-width="0.8"/>
<text transform="translate(189.80,70.10) scale(0.8273,1)" font-size="8.80" text-anchor="end" fill="#2b2b2b" stroke="#2b2b2b" stroke-width="0.15">5</text>
<line x1="190.20" y1="90.60" x2="192.20" y2="90.60" stroke="#555" stroke-width="0.8"/>
<text transform="translate(189.80,93.50) scale(0.8273,1)" font-size="8.80" text-anchor="end" fill="#2b2b2b" stroke="#2b2b2b" stroke-width="0.15">4</text>
<line x1="190.20" y1="114.60" x2="192.20" y2="114.60" stroke="#555" stroke-width="0.8"/>
<text transform="translate(189.80,117.50) scale(0.8273,1)" font-size="8.80" text-anchor="end" fill="#2b2b2b" stroke="#2b2b2b" stroke-width="0.15">3</text>
<line x1="190.20" y1="137.80" x2="192.20" y2="137.80" stroke="#555" stroke-width="0.8"/>
<text transform="translate(189.80,140.70) scale(0.8273,1)" font-size="8.80" text-anchor="end" fill="#2b2b2b" stroke="#2b2b2b" stroke-width="0.15">2</text>
<line x1="197.10" y1="143.20" x2="197.10" y2="145.20" stroke="#555" stroke-width="0.8"/>
<text transform="translate(197.10,151.80) scale(0.8273,1)" font-size="8.80" text-anchor="middle" fill="#2b2b2b" stroke="#2b2b2b" stroke-width="0.15">0</text>
<line x1="220.14" y1="143.20" x2="220.14" y2="145.20" stroke="#555" stroke-width="0.8"/>
<text transform="translate(220.14,151.80) scale(0.8273,1)" font-size="8.80" text-anchor="middle" fill="#2b2b2b" stroke="#2b2b2b" stroke-width="0.15">2</text>
<line x1="243.18" y1="143.20" x2="243.18" y2="145.20" stroke="#555" stroke-width="0.8"/>
<text transform="translate(243.18,151.80) scale(0.8273,1)" font-size="8.80" text-anchor="middle" fill="#2b2b2b" stroke="#2b2b2b" stroke-width="0.15">4</text>
<line x1="266.22" y1="143.20" x2="266.22" y2="145.20" stroke="#555" stroke-width="0.8"/>
<text transform="translate(266.22,151.80) scale(0.8273,1)" font-size="8.80" text-anchor="middle" fill="#2b2b2b" stroke="#2b2b2b" stroke-width="0.15">6</text>
<line x1="289.26" y1="143.20" x2="289.26" y2="145.20" stroke="#555" stroke-width="0.8"/>
<text transform="translate(289.26,151.80) scale(0.8273,1)" font-size="8.80" text-anchor="middle" fill="#2b2b2b" stroke="#2b2b2b" stroke-width="0.15">8</text>
<line x1="312.30" y1="143.20" x2="312.30" y2="145.20" stroke="#555" stroke-width="0.8"/>
<text transform="translate(312.30,151.80) scale(0.8273,1)" font-size="8.80" text-anchor="middle" fill="#2b2b2b" stroke="#2b2b2b" stroke-width="0.15">10</text>
<text transform="translate(236.00,31.30) scale(0.9091,1)" font-size="8.58" font-weight="bold" fill="#111" stroke="#111" stroke-width="0.15">ER+ n=715</text>
<g fill="none" stroke="#3550b8" stroke-width="0.5" stroke-opacity="0.5"><circle cx="204.5" cy="109.1" r="1.4"/><circle cx="198.8" cy="97.8" r="1.4"/><circle cx="202.6" cy="109.0" r="1.4"/><circle cx="205.7" cy="118.7" r="1.4"/><circle cx="209.9" cy="99.5" r="1.4"/><circle cx="205.0" cy="113.7" r="1.4"/><circle cx="199.1" cy="105.4" r="1.4"/><circle cx="197.6" cy="98.6" r="1.4"/><circle cx="201.7" cy="104.1" r="1.4"/><circle cx="199.4" cy="106.8" r="1.4"/><circle cx="203.1" cy="88.8" r="1.4"/><circle cx="204.2" cy="103.1" r="1.4"/><circle cx="201.9" cy="112.7" r="1.4"/><circle cx="209.8" cy="110.0" r="1.4"/><circle cx="202.2" cy="102.8" r="1.4"/><circle cx="197.2" cy="110.4" r="1.4"/><circle cx="202.7" cy="110.0" r="1.4"/><circle cx="201.4" cy="94.2" r="1.4"/><circle cx="207.2" cy="110.0" r="1.4"/><circle cx="214.4" cy="104.7" r="1.4"/><circle cx="210.0" cy="98.0" r="1.4"/><circle cx="204.5" cy="117.8" r="1.4"/><circle cx="205.5" cy="124.9" r="1.4"/><circle cx="206.3" cy="88.7" r="1.4"/><circle cx="211.1" cy="89.2" r="1.4"/><circle cx="198.8" cy="124.9" r="1.4"/><circle cx="198.3" cy="83.9" r="1.4"/><circle cx="201.7" cy="89.7" r="1.4"/><circle cx="209.8" cy="101.5" r="1.4"/><circle cx="212.1" cy="107.3" r="1.4"/><circle cx="239.9" cy="91.6" r="1.4"/><circle cx="233.1" cy="92.5" r="1.4"/><circle cx="224.8" cy="101.3" r="1.4"/><circle cx="210.9" cy="104.1" r="1.4"/><circle cx="212.0" cy="88.7" r="1.4"/><circle cx="225.2" cy="96.6" r="1.4"/><circle cx="227.0" cy="95.8" r="1.4"/><circle cx="215.2" cy="94.8" r="1.4"/><circle cx="235.7" cy="79.8" r="1.4"/><circle cx="211.7" cy="100.3" r="1.4"/><circle cx="210.6" cy="90.1" r="1.4"/><circle cx="233.3" cy="101.9" r="1.4"/><circle cx="219.2" cy="109.0" r="1.4"/><circle cx="222.5" cy="97.0" r="1.4"/><circle cx="228.0" cy="86.0" r="1.4"/><circle cx="235.9" cy="98.0" r="1.4"/><circle cx="214.5" cy="112.4" r="1.4"/><circle cx="221.7" cy="95.2" r="1.4"/><circle cx="214.9" cy="94.0" r="1.4"/><circle cx="209.1" cy="90.4" r="1.4"/><circle cx="237.4" cy="94.9" r="1.4"/><circle cx="236.4" cy="111.6" r="1.4"/><circle cx="228.9" cy="108.5" r="1.4"/><circle cx="224.9" cy="92.7" r="1.4"/><circle cx="240.3" cy="96.9" r="1.4"/><circle cx="238.0" cy="105.2" r="1.4"/><circle cx="232.6" cy="96.4" r="1.4"/><circle cx="221.7" cy="114.4" r="1.4"/><circle cx="237.5" cy="89.6" r="1.4"/><circle cx="233.4" cy="108.0" r="1.4"/><circle cx="233.3" cy="110.3" r="1.4"/><circle cx="210.9" cy="91.6" r="1.4"/><circle cx="219.6" cy="100.3" r="1.4"/><circle cx="220.1" cy="98.9" r="1.4"/><circle cx="229.2" cy="103.5" r="1.4"/><circle cx="239.1" cy="103.4" r="1.4"/><circle cx="230.1" cy="105.6" r="1.4"/><circle cx="227.0" cy="88.6" r="1.4"/><circle cx="225.8" cy="126.8" r="1.4"/><circle cx="229.3" cy="76.1" r="1.4"/><circle cx="255.1" cy="100.2" r="1.4"/><circle cx="277.6" cy="95.4" r="1.4"/><circle cx="250.0" cy="89.7" r="1.4"/><circle cx="268.2" cy="95.0" r="1.4"/><circle cx="247.9" cy="84.2" r="1.4"/><circle cx="272.1" cy="113.2" r="1.4"/><circle cx="247.9" cy="75.4" r="1.4"/><circle cx="249.4" cy="112.0" r="1.4"/><circle cx="267.6" cy="96.6" r="1.4"/><circle cx="269.3" cy="112.1" r="1.4"/><circle cx="276.0" cy="87.0" r="1.4"/><circle cx="253.7" cy="101.2" r="1.4"/><circle cx="268.1" cy="100.1" r="1.4"/><circle cx="268.5" cy="98.5" r="1.4"/><circle cx="264.5" cy="110.2" r="1.4"/><circle cx="250.9" cy="113.5" r="1.4"/><circle cx="253.5" cy="100.8" r="1.4"/><circle cx="256.4" cy="93.7" r="1.4"/><circle cx="234.4" cy="97.5" r="1.4"/><circle cx="261.8" cy="106.6" r="1.4"/><circle cx="257.8" cy="118.1" r="1.4"/><circle cx="246.3" cy="106.2" r="1.4"/><circle cx="241.5" cy="84.9" r="1.4"/><circle cx="265.3" cy="93.0" r="1.4"/><circle cx="254.4" cy="81.0" r="1.4"/><circle cx="269.0" cy="90.2" r="1.4"/><circle cx="256.3" cy="98.5" r="1.4"/><circle cx="254.3" cy="95.4" r="1.4"/><circle cx="241.8" cy="96.1" r="1.4"/><circle cx="267.8" cy="92.5" r="1.4"/><circle cx="244.7" cy="95.1" r="1.4"/><circle cx="247.2" cy="109.3" r="1.4"/><circle cx="286.4" cy="97.2" r="1.4"/><circle cx="246.8" cy="111.1" r="1.4"/><circle cx="254.8" cy="100.7" r="1.4"/><circle cx="233.4" cy="112.8" r="1.4"/><circle cx="271.4" cy="103.0" r="1.4"/><circle cx="238.8" cy="90.2" r="1.4"/><circle cx="237.8" cy="77.8" r="1.4"/><circle cx="239.7" cy="104.2" r="1.4"/><circle cx="247.9" cy="100.1" r="1.4"/><circle cx="238.2" cy="105.7" r="1.4"/><circle cx="265.3" cy="84.1" r="1.4"/><circle cx="275.1" cy="83.4" r="1.4"/><circle cx="258.6" cy="91.3" r="1.4"/><circle cx="266.4" cy="101.1" r="1.4"/><circle cx="263.9" cy="90.7" r="1.4"/><circle cx="258.5" cy="96.4" r="1.4"/><circle cx="264.9" cy="104.2" r="1.4"/><circle cx="242.5" cy="94.7" r="1.4"/><circle cx="263.2" cy="106.7" r="1.4"/><circle cx="263.4" cy="91.9" r="1.4"/><circle cx="257.5" cy="89.8" r="1.4"/><circle cx="264.2" cy="92.6" r="1.4"/><circle cx="268.0" cy="96.4" r="1.4"/><circle cx="243.4" cy="95.1" r="1.4"/><circle cx="266.9" cy="94.9" r="1.4"/><circle cx="266.6" cy="93.4" r="1.4"/><circle cx="248.9" cy="112.9" r="1.4"/><circle cx="252.7" cy="102.8" r="1.4"/><circle cx="260.5" cy="77.8" r="1.4"/><circle cx="241.9" cy="103.1" r="1.4"/><circle cx="272.1" cy="82.3" r="1.4"/><circle cx="255.6" cy="94.3" r="1.4"/><circle cx="263.1" cy="77.4" r="1.4"/><circle cx="252.3" cy="104.3" r="1.4"/><circle cx="269.1" cy="101.4" r="1.4"/><circle cx="258.3" cy="80.2" r="1.4"/><circle cx="258.2" cy="94.5" r="1.4"/><circle cx="261.1" cy="103.7" r="1.4"/><circle cx="261.3" cy="89.8" r="1.4"/><circle cx="241.0" cy="100.9" r="1.4"/><circle cx="254.9" cy="90.2" r="1.4"/><circle cx="268.2" cy="94.8" r="1.4"/><circle cx="283.7" cy="106.0" r="1.4"/><circle cx="257.6" cy="87.0" r="1.4"/><circle cx="258.9" cy="100.1" r="1.4"/><circle cx="257.8" cy="94.6" r="1.4"/><circle cx="258.7" cy="86.3" r="1.4"/><circle cx="238.2" cy="94.9" r="1.4"/><circle cx="254.8" cy="96.9" r="1.4"/><circle cx="278.4" cy="83.4" r="1.4"/><circle cx="267.2" cy="117.8" r="1.4"/><circle cx="265.2" cy="110.6" r="1.4"/><circle cx="246.9" cy="101.5" r="1.4"/><circle cx="279.5" cy="111.5" r="1.4"/><circle cx="272.7" cy="77.7" r="1.4"/><circle cx="271.5" cy="90.1" r="1.4"/><circle cx="273.9" cy="98.7" r="1.4"/><circle cx="258.2" cy="90.5" r="1.4"/><circle cx="250.2" cy="96.9" r="1.4"/><circle cx="263.8" cy="97.9" r="1.4"/><circle cx="272.1" cy="95.3" r="1.4"/><circle cx="248.2" cy="97.5" r="1.4"/><circle cx="254.0" cy="103.7" r="1.4"/><circle cx="267.6" cy="75.6" r="1.4"/><circle cx="254.6" cy="95.9" r="1.4"/><circle cx="257.7" cy="105.8" r="1.4"/><circle cx="272.6" cy="92.2" r="1.4"/><circle cx="274.8" cy="94.3" r="1.4"/><circle cx="259.8" cy="76.9" r="1.4"/><circle cx="258.2" cy="91.0" r="1.4"/><circle cx="275.4" cy="95.3" r="1.4"/><circle cx="270.7" cy="101.4" r="1.4"/><circle cx="256.8" cy="99.9" r="1.4"/><circle cx="269.6" cy="97.3" r="1.4"/><circle cx="251.2" cy="90.4" r="1.4"/><circle cx="278.0" cy="104.0" r="1.4"/><circle cx="284.9" cy="106.5" r="1.4"/><circle cx="251.8" cy="104.3" r="1.4"/><circle cx="279.0" cy="88.0" r="1.4"/><circle cx="263.0" cy="81.9" r="1.4"/><circle cx="269.5" cy="95.1" r="1.4"/><circle cx="252.0" cy="110.6" r="1.4"/><circle cx="272.6" cy="96.8" r="1.4"/><circle cx="256.4" cy="94.0" r="1.4"/><circle cx="266.3" cy="86.7" r="1.4"/><circle cx="268.0" cy="73.8" r="1.4"/><circle cx="271.3" cy="103.9" r="1.4"/><circle cx="265.7" cy="104.0" r="1.4"/><circle cx="242.8" cy="92.0" r="1.4"/><circle cx="248.5" cy="100.6" r="1.4"/><circle cx="270.2" cy="83.5" r="1.4"/><circle cx="260.5" cy="103.1" r="1.4"/><circle cx="263.7" cy="108.1" r="1.4"/><circle cx="257.5" cy="95.9" r="1.4"/><circle cx="253.9" cy="87.2" r="1.4"/><circle cx="256.0" cy="98.7" r="1.4"/><circle cx="248.9" cy="87.4" r="1.4"/><circle cx="264.7" cy="111.8" r="1.4"/><circle cx="253.9" cy="98.8" r="1.4"/><circle cx="262.0" cy="115.4" r="1.4"/><circle cx="248.5" cy="98.4" r="1.4"/><circle cx="252.6" cy="95.2" r="1.4"/><circle cx="251.2" cy="123.6" r="1.4"/><circle cx="240.2" cy="98.0" r="1.4"/><circle cx="263.4" cy="99.7" r="1.4"/><circle cx="275.3" cy="97.6" r="1.4"/><circle cx="260.9" cy="90.5" r="1.4"/><circle cx="259.8" cy="81.6" r="1.4"/><circle cx="255.8" cy="103.2" r="1.4"/><circle cx="269.6" cy="97.5" r="1.4"/><circle cx="253.3" cy="94.0" r="1.4"/><circle cx="265.7" cy="94.8" r="1.4"/><circle cx="271.8" cy="100.3" r="1.4"/><circle cx="244.9" cy="100.7" r="1.4"/><circle cx="256.9" cy="73.3" r="1.4"/><circle cx="281.6" cy="93.2" r="1.4"/><circle cx="254.3" cy="98.0" r="1.4"/><circle cx="263.8" cy="101.3" r="1.4"/><circle cx="266.5" cy="98.2" r="1.4"/><circle cx="238.9" cy="104.9" r="1.4"/><circle cx="265.3" cy="82.5" r="1.4"/><circle cx="262.0" cy="93.1" r="1.4"/><circle cx="274.5" cy="66.7" r="1.4"/><circle cx="275.8" cy="98.2" r="1.4"/><circle cx="252.9" cy="81.4" r="1.4"/><circle cx="258.4" cy="104.3" r="1.4"/><circle cx="241.0" cy="106.1" r="1.4"/><circle cx="267.3" cy="93.0" r="1.4"/><circle cx="252.7" cy="94.1" r="1.4"/><circle cx="247.4" cy="87.4" r="1.4"/><circle cx="266.1" cy="83.3" r="1.4"/><circle cx="258.0" cy="82.0" r="1.4"/><circle cx="250.8" cy="83.1" r="1.4"/><circle cx="276.8" cy="89.3" r="1.4"/><circle cx="278.1" cy="73.0" r="1.4"/><circle cx="248.3" cy="102.2" r="1.4"/><circle cx="244.9" cy="88.7" r="1.4"/><circle cx="251.7" cy="110.7" r="1.4"/><circle cx="259.5" cy="105.9" r="1.4"/><circle cx="282.4" cy="92.8" r="1.4"/><circle cx="266.9" cy="101.7" r="1.4"/><circle cx="245.0" cy="90.9" r="1.4"/><circle cx="271.5" cy="100.0" r="1.4"/><circle cx="246.6" cy="97.5" r="1.4"/><circle cx="268.1" cy="98.5" r="1.4"/><circle cx="277.6" cy="87.3" r="1.4"/><circle cx="275.2" cy="102.3" r="1.4"/><circle cx="242.8" cy="105.7" r="1.4"/><circle cx="253.8" cy="82.7" r="1.4"/><circle cx="265.0" cy="91.8" r="1.4"/><circle cx="245.8" cy="92.1" r="1.4"/><circle cx="256.2" cy="92.9" r="1.4"/><circle cx="254.3" cy="106.4" r="1.4"/><circle cx="260.0" cy="86.1" r="1.4"/><circle cx="252.3" cy="90.8" r="1.4"/><circle cx="283.5" cy="83.0" r="1.4"/><circle cx="276.8" cy="95.8" r="1.4"/><circle cx="267.8" cy="101.3" r="1.4"/><circle cx="262.2" cy="100.8" r="1.4"/><circle cx="259.0" cy="107.3" r="1.4"/><circle cx="263.8" cy="96.6" r="1.4"/><circle cx="260.9" cy="99.3" r="1.4"/><circle cx="252.4" cy="87.9" r="1.4"/><circle cx="259.3" cy="97.2" r="1.4"/><circle cx="269.5" cy="74.2" r="1.4"/><circle cx="269.2" cy="89.6" r="1.4"/><circle cx="248.2" cy="103.8" r="1.4"/><circle cx="271.9" cy="90.9" r="1.4"/><circle cx="260.2" cy="87.7" r="1.4"/><circle cx="253.1" cy="118.1" r="1.4"/><circle cx="259.6" cy="83.5" r="1.4"/><circle cx="257.4" cy="92.5" r="1.4"/><circle cx="269.1" cy="75.0" r="1.4"/><circle cx="247.3" cy="89.5" r="1.4"/><circle cx="281.0" cy="99.1" r="1.4"/><circle cx="270.2" cy="83.9" r="1.4"/><circle cx="281.3" cy="85.7" r="1.4"/><circle cx="259.1" cy="98.9" r="1.4"/><circle cx="253.5" cy="92.8" r="1.4"/><circle cx="256.7" cy="82.4" r="1.4"/><circle cx="271.3" cy="101.5" r="1.4"/><circle cx="283.3" cy="81.5" r="1.4"/><circle cx="245.3" cy="85.9" r="1.4"/><circle cx="273.3" cy="83.2" r="1.4"/><circle cx="254.3" cy="88.9" r="1.4"/><circle cx="263.4" cy="99.6" r="1.4"/><circle cx="277.1" cy="90.7" r="1.4"/><circle cx="266.5" cy="92.5" r="1.4"/><circle cx="277.1" cy="90.3" r="1.4"/><circle cx="248.0" cy="106.4" r="1.4"/><circle cx="237.9" cy="102.7" r="1.4"/><circle cx="254.6" cy="102.1" r="1.4"/><circle cx="285.6" cy="95.8" r="1.4"/><circle cx="250.9" cy="98.1" r="1.4"/><circle cx="255.3" cy="84.4" r="1.4"/><circle cx="257.9" cy="106.6" r="1.4"/><circle cx="256.7" cy="82.0" r="1.4"/><circle cx="263.9" cy="95.7" r="1.4"/><circle cx="268.3" cy="92.2" r="1.4"/><circle cx="254.4" cy="98.7" r="1.4"/><circle cx="279.1" cy="92.3" r="1.4"/><circle cx="269.1" cy="99.6" r="1.4"/><circle cx="257.0" cy="71.5" r="1.4"/><circle cx="237.7" cy="86.0" r="1.4"/><circle cx="262.1" cy="94.2" r="1.4"/><circle cx="247.4" cy="85.3" r="1.4"/><circle cx="253.2" cy="89.8" r="1.4"/><circle cx="273.3" cy="98.8" r="1.4"/><circle cx="250.3" cy="104.8" r="1.4"/><circle cx="241.6" cy="108.0" r="1.4"/><circle cx="257.8" cy="86.3" r="1.4"/><circle cx="244.1" cy="120.1" r="1.4"/><circle cx="255.5" cy="87.0" r="1.4"/><circle cx="278.0" cy="85.8" r="1.4"/><circle cx="273.6" cy="92.1" r="1.4"/><circle cx="272.3" cy="90.7" r="1.4"/><circle cx="238.3" cy="94.8" r="1.4"/><circle cx="250.7" cy="102.4" r="1.4"/><circle cx="259.9" cy="104.6" r="1.4"/><circle cx="252.5" cy="82.3" r="1.4"/><circle cx="262.9" cy="97.0" r="1.4"/><circle cx="243.9" cy="91.8" r="1.4"/><circle cx="253.8" cy="94.0" r="1.4"/><circle cx="261.2" cy="104.9" r="1.4"/><circle cx="259.6" cy="101.7" r="1.4"/><circle cx="262.7" cy="93.0" r="1.4"/><circle cx="254.8" cy="84.3" r="1.4"/><circle cx="250.7" cy="112.2" r="1.4"/><circle cx="253.6" cy="94.7" r="1.4"/><circle cx="266.1" cy="94.9" r="1.4"/><circle cx="262.6" cy="99.6" r="1.4"/><circle cx="274.8" cy="100.6" r="1.4"/><circle cx="257.8" cy="98.3" r="1.4"/><circle cx="256.6" cy="92.2" r="1.4"/><circle cx="252.6" cy="95.4" r="1.4"/><circle cx="266.4" cy="100.6" r="1.4"/><circle cx="238.1" cy="95.9" r="1.4"/><circle cx="255.1" cy="102.9" r="1.4"/><circle cx="265.4" cy="88.4" r="1.4"/><circle cx="290.7" cy="80.3" r="1.4"/><circle cx="263.0" cy="92.1" r="1.4"/><circle cx="267.5" cy="85.1" r="1.4"/><circle cx="259.2" cy="97.3" r="1.4"/><circle cx="260.8" cy="73.7" r="1.4"/><circle cx="266.9" cy="86.1" r="1.4"/><circle cx="255.5" cy="85.0" r="1.4"/><circle cx="262.1" cy="93.0" r="1.4"/><circle cx="279.8" cy="92.9" r="1.4"/><circle cx="258.4" cy="101.7" r="1.4"/><circle cx="259.0" cy="82.1" r="1.4"/><circle cx="260.0" cy="83.5" r="1.4"/><circle cx="269.8" cy="97.3" r="1.4"/><circle cx="241.6" cy="72.6" r="1.4"/><circle cx="256.7" cy="96.6" r="1.4"/><circle cx="244.9" cy="87.8" r="1.4"/><circle cx="269.7" cy="90.2" r="1.4"/><circle cx="251.1" cy="113.9" r="1.4"/><circle cx="238.1" cy="107.8" r="1.4"/><circle cx="247.6" cy="93.4" r="1.4"/><circle cx="265.8" cy="101.9" r="1.4"/><circle cx="261.0" cy="101.1" r="1.4"/><circle cx="254.9" cy="89.9" r="1.4"/><circle cx="252.4" cy="97.0" r="1.4"/><circle cx="261.7" cy="87.7" r="1.4"/><circle cx="249.1" cy="93.9" r="1.4"/><circle cx="271.8" cy="101.7" r="1.4"/><circle cx="237.5" cy="94.0" r="1.4"/><circle cx="270.7" cy="79.8" r="1.4"/><circle cx="267.5" cy="98.8" r="1.4"/><circle cx="266.7" cy="87.6" r="1.4"/><circle cx="260.2" cy="95.2" r="1.4"/><circle cx="271.4" cy="79.5" r="1.4"/><circle cx="250.5" cy="96.5" r="1.4"/><circle cx="270.7" cy="80.2" r="1.4"/><circle cx="282.7" cy="102.8" r="1.4"/><circle cx="275.2" cy="96.5" r="1.4"/><circle cx="233.3" cy="88.6" r="1.4"/><circle cx="260.7" cy="97.5" r="1.4"/><circle cx="262.7" cy="87.7" r="1.4"/><circle cx="252.1" cy="93.7" r="1.4"/><circle cx="244.8" cy="86.7" r="1.4"/><circle cx="263.4" cy="93.9" r="1.4"/><circle cx="262.8" cy="86.5" r="1.4"/><circle cx="272.5" cy="84.8" r="1.4"/><circle cx="261.4" cy="105.3" r="1.4"/><circle cx="266.3" cy="83.7" r="1.4"/><circle cx="273.6" cy="94.1" r="1.4"/><circle cx="278.7" cy="95.4" r="1.4"/><circle cx="253.4" cy="92.9" r="1.4"/><circle cx="268.7" cy="95.9" r="1.4"/><circle cx="247.3" cy="110.7" r="1.4"/><circle cx="275.2" cy="91.7" r="1.4"/><circle cx="269.2" cy="97.4" r="1.4"/><circle cx="266.3" cy="91.7" r="1.4"/><circle cx="260.0" cy="103.2" r="1.4"/><circle cx="247.9" cy="86.0" r="1.4"/><circle cx="253.9" cy="81.1" r="1.4"/><circle cx="266.7" cy="97.1" r="1.4"/><circle cx="252.6" cy="108.8" r="1.4"/><circle cx="282.7" cy="97.7" r="1.4"/><circle cx="261.0" cy="80.5" r="1.4"/><circle cx="270.1" cy="87.9" r="1.4"/><circle cx="256.0" cy="92.7" r="1.4"/><circle cx="251.3" cy="89.5" r="1.4"/><circle cx="249.5" cy="95.4" r="1.4"/><circle cx="266.0" cy="85.5" r="1.4"/><circle cx="252.1" cy="94.3" r="1.4"/><circle cx="254.8" cy="101.3" r="1.4"/><circle cx="268.5" cy="88.6" r="1.4"/><circle cx="253.2" cy="92.5" r="1.4"/><circle cx="243.0" cy="103.8" r="1.4"/><circle cx="241.6" cy="101.4" r="1.4"/><circle cx="271.2" cy="91.9" r="1.4"/><circle cx="256.4" cy="92.2" r="1.4"/><circle cx="256.0" cy="93.0" r="1.4"/><circle cx="243.3" cy="95.8" r="1.4"/><circle cx="248.8" cy="93.9" r="1.4"/><circle cx="259.3" cy="92.4" r="1.4"/><circle cx="244.7" cy="79.0" r="1.4"/><circle cx="250.7" cy="98.5" r="1.4"/><circle cx="255.5" cy="100.4" r="1.4"/><circle cx="242.9" cy="93.6" r="1.4"/><circle cx="270.3" cy="96.0" r="1.4"/><circle cx="233.7" cy="108.0" r="1.4"/><circle cx="261.6" cy="108.0" r="1.4"/><circle cx="250.3" cy="102.4" r="1.4"/><circle cx="250.9" cy="91.4" r="1.4"/><circle cx="271.2" cy="111.1" r="1.4"/><circle cx="239.8" cy="81.9" r="1.4"/><circle cx="265.7" cy="92.6" r="1.4"/><circle cx="248.9" cy="96.0" r="1.4"/><circle cx="238.1" cy="75.9" r="1.4"/><circle cx="264.0" cy="88.9" r="1.4"/><circle cx="261.8" cy="79.5" r="1.4"/><circle cx="259.4" cy="94.1" r="1.4"/><circle cx="247.7" cy="98.4" r="1.4"/><circle cx="260.3" cy="83.0" r="1.4"/><circle cx="250.4" cy="105.5" r="1.4"/><circle cx="248.3" cy="104.6" r="1.4"/><circle cx="274.8" cy="115.6" r="1.4"/><circle cx="253.7" cy="87.2" r="1.4"/><circle cx="267.2" cy="99.3" r="1.4"/><circle cx="255.3" cy="109.8" r="1.4"/><circle cx="247.2" cy="119.2" r="1.4"/><circle cx="262.5" cy="99.4" r="1.4"/><circle cx="249.2" cy="103.5" r="1.4"/><circle cx="248.6" cy="99.3" r="1.4"/><circle cx="254.8" cy="79.0" r="1.4"/><circle cx="250.6" cy="97.0" r="1.4"/><circle cx="259.4" cy="85.8" r="1.4"/><circle cx="265.7" cy="83.3" r="1.4"/><circle cx="262.4" cy="91.7" r="1.4"/><circle cx="264.4" cy="92.1" r="1.4"/><circle cx="257.6" cy="99.3" r="1.4"/><circle cx="239.5" cy="91.5" r="1.4"/><circle cx="252.2" cy="94.6" r="1.4"/><circle cx="275.6" cy="107.7" r="1.4"/><circle cx="268.0" cy="91.2" r="1.4"/><circle cx="237.7" cy="97.6" r="1.4"/><circle cx="244.3" cy="86.3" r="1.4"/><circle cx="259.1" cy="78.9" r="1.4"/><circle cx="254.2" cy="87.2" r="1.4"/><circle cx="260.7" cy="113.3" r="1.4"/><circle cx="266.7" cy="105.0" r="1.4"/><circle cx="242.7" cy="88.8" r="1.4"/><circle cx="243.0" cy="109.2" r="1.4"/><circle cx="261.3" cy="99.2" r="1.4"/><circle cx="246.4" cy="85.6" r="1.4"/><circle cx="260.2" cy="88.2" r="1.4"/><circle cx="275.3" cy="91.8" r="1.4"/><circle cx="289.2" cy="101.0" r="1.4"/><circle cx="271.6" cy="82.1" r="1.4"/><circle cx="244.4" cy="89.3" r="1.4"/><circle cx="236.9" cy="83.0" r="1.4"/><circle cx="263.1" cy="94.4" r="1.4"/><circle cx="257.9" cy="99.5" r="1.4"/><circle cx="268.9" cy="91.4" r="1.4"/><circle cx="254.8" cy="126.1" r="1.4"/><circle cx="267.2" cy="87.7" r="1.4"/><circle cx="274.2" cy="91.0" r="1.4"/><circle cx="247.7" cy="94.7" r="1.4"/><circle cx="251.4" cy="78.9" r="1.4"/><circle cx="264.5" cy="100.8" r="1.4"/><circle cx="246.3" cy="87.3" r="1.4"/><circle cx="262.6" cy="121.8" r="1.4"/><circle cx="245.0" cy="86.3" r="1.4"/><circle cx="238.5" cy="101.7" r="1.4"/><circle cx="263.8" cy="89.2" r="1.4"/><circle cx="281.3" cy="78.0" r="1.4"/><circle cx="259.2" cy="83.1" r="1.4"/><circle cx="267.1" cy="87.8" r="1.4"/><circle cx="274.8" cy="91.4" r="1.4"/><circle cx="269.8" cy="82.6" r="1.4"/><circle cx="258.0" cy="87.7" r="1.4"/><circle cx="247.8" cy="94.7" r="1.4"/><circle cx="259.1" cy="91.4" r="1.4"/><circle cx="282.8" cy="84.0" r="1.4"/><circle cx="257.5" cy="91.0" r="1.4"/><circle cx="265.0" cy="83.6" r="1.4"/><circle cx="267.4" cy="93.8" r="1.4"/><circle cx="268.7" cy="102.0" r="1.4"/><circle cx="240.5" cy="87.3" r="1.4"/><circle cx="256.0" cy="92.8" r="1.4"/><circle cx="242.5" cy="100.7" r="1.4"/><circle cx="252.3" cy="100.8" r="1.4"/><circle cx="281.7" cy="99.6" r="1.4"/><circle cx="272.4" cy="93.6" r="1.4"/><circle cx="269.1" cy="107.2" r="1.4"/><circle cx="260.6" cy="92.4" r="1.4"/><circle cx="262.3" cy="89.9" r="1.4"/><circle cx="269.5" cy="89.3" r="1.4"/><circle cx="259.5" cy="103.0" r="1.4"/><circle cx="257.6" cy="94.8" r="1.4"/><circle cx="266.9" cy="69.6" r="1.4"/><circle cx="274.1" cy="92.2" r="1.4"/><circle cx="267.2" cy="110.0" r="1.4"/><circle cx="258.2" cy="104.5" r="1.4"/><circle cx="266.7" cy="111.2" r="1.4"/><circle cx="263.2" cy="122.7" r="1.4"/><circle cx="283.2" cy="77.8" r="1.4"/><circle cx="243.9" cy="87.2" r="1.4"/><circle cx="259.2" cy="72.9" r="1.4"/><circle cx="275.0" cy="91.0" r="1.4"/><circle cx="261.0" cy="84.7" r="1.4"/><circle cx="247.3" cy="85.2" r="1.4"/><circle cx="263.6" cy="102.8" r="1.4"/><circle cx="252.0" cy="102.3" r="1.4"/><circle cx="254.5" cy="74.0" r="1.4"/><circle cx="257.0" cy="90.8" r="1.4"/><circle cx="249.2" cy="81.6" r="1.4"/><circle cx="264.1" cy="78.3" r="1.4"/><circle cx="241.8" cy="100.6" r="1.4"/><circle cx="261.8" cy="90.1" r="1.4"/><circle cx="266.3" cy="86.7" r="1.4"/><circle cx="257.8" cy="94.1" r="1.4"/><circle cx="247.0" cy="95.9" r="1.4"/><circle cx="252.8" cy="84.2" r="1.4"/><circle cx="267.1" cy="95.7" r="1.4"/><circle cx="267.1" cy="99.7" r="1.4"/><circle cx="259.5" cy="99.2" r="1.4"/><circle cx="272.1" cy="94.1" r="1.4"/><circle cx="267.6" cy="95.3" r="1.4"/><circle cx="243.4" cy="87.7" r="1.4"/><circle cx="263.5" cy="87.0" r="1.4"/><circle cx="246.3" cy="117.3" r="1.4"/><circle cx="255.9" cy="89.2" r="1.4"/><circle cx="236.5" cy="73.6" r="1.4"/><circle cx="269.6" cy="82.3" r="1.4"/><circle cx="246.8" cy="86.0" r="1.4"/><circle cx="263.2" cy="80.9" r="1.4"/><circle cx="277.4" cy="105.3" r="1.4"/><circle cx="249.4" cy="104.0" r="1.4"/><circle cx="253.9" cy="97.1" r="1.4"/><circle cx="269.0" cy="106.4" r="1.4"/><circle cx="242.2" cy="92.1" r="1.4"/><circle cx="248.9" cy="90.9" r="1.4"/><circle cx="261.4" cy="81.1" r="1.4"/><circle cx="246.2" cy="101.1" r="1.4"/><circle cx="276.0" cy="90.1" r="1.4"/><circle cx="244.0" cy="91.8" r="1.4"/><circle cx="236.1" cy="109.7" r="1.4"/><circle cx="267.2" cy="84.7" r="1.4"/><circle cx="279.1" cy="93.2" r="1.4"/><circle cx="251.7" cy="80.5" r="1.4"/><circle cx="271.5" cy="94.0" r="1.4"/><circle cx="263.5" cy="97.9" r="1.4"/><circle cx="273.3" cy="93.8" r="1.4"/><circle cx="261.6" cy="75.5" r="1.4"/><circle cx="242.4" cy="115.0" r="1.4"/><circle cx="269.6" cy="109.0" r="1.4"/><circle cx="256.5" cy="76.5" r="1.4"/><circle cx="269.0" cy="95.3" r="1.4"/><circle cx="250.4" cy="91.6" r="1.4"/><circle cx="246.8" cy="115.0" r="1.4"/><circle cx="253.8" cy="92.4" r="1.4"/><circle cx="268.5" cy="96.0" r="1.4"/><circle cx="255.6" cy="111.2" r="1.4"/><circle cx="252.1" cy="102.6" r="1.4"/><circle cx="259.8" cy="88.5" r="1.4"/><circle cx="236.7" cy="95.2" r="1.4"/><circle cx="244.2" cy="81.5" r="1.4"/><circle cx="247.2" cy="90.3" r="1.4"/><circle cx="268.7" cy="91.4" r="1.4"/><circle cx="261.3" cy="105.5" r="1.4"/><circle cx="279.3" cy="90.0" r="1.4"/><circle cx="254.1" cy="91.0" r="1.4"/><circle cx="270.2" cy="85.5" r="1.4"/><circle cx="245.7" cy="92.8" r="1.4"/><circle cx="256.6" cy="88.1" r="1.4"/><circle cx="258.7" cy="108.5" r="1.4"/><circle cx="241.4" cy="97.3" r="1.4"/><circle cx="251.4" cy="100.5" r="1.4"/><circle cx="248.1" cy="86.7" r="1.4"/><circle cx="260.4" cy="100.0" r="1.4"/><circle cx="274.9" cy="95.3" r="1.4"/><circle cx="275.5" cy="95.0" r="1.4"/><circle cx="252.1" cy="84.8" r="1.4"/><circle cx="272.7" cy="98.2" r="1.4"/><circle cx="260.6" cy="76.9" r="1.4"/><circle cx="278.5" cy="99.7" r="1.4"/><circle cx="252.1" cy="84.7" r="1.4"/><circle cx="252.2" cy="110.3" r="1.4"/><circle cx="252.6" cy="88.7" r="1.4"/><circle cx="253.6" cy="92.1" r="1.4"/><circle cx="250.7" cy="103.0" r="1.4"/><circle cx="264.6" cy="103.1" r="1.4"/><circle cx="245.5" cy="92.8" r="1.4"/><circle cx="269.7" cy="96.7" r="1.4"/><circle cx="256.8" cy="101.7" r="1.4"/><circle cx="250.6" cy="99.3" r="1.4"/><circle cx="266.2" cy="99.6" r="1.4"/><circle cx="270.4" cy="105.1" r="1.4"/><circle cx="232.3" cy="90.9" r="1.4"/><circle cx="244.1" cy="85.5" r="1.4"/><circle cx="248.7" cy="102.0" r="1.4"/><circle cx="270.9" cy="89.3" r="1.4"/><circle cx="256.8" cy="84.4" r="1.4"/><circle cx="269.0" cy="95.9" r="1.4"/><circle cx="253.2" cy="109.0" r="1.4"/><circle cx="259.7" cy="84.4" r="1.4"/><circle cx="276.6" cy="77.3" r="1.4"/><circle cx="259.2" cy="84.3" r="1.4"/><circle cx="247.1" cy="80.5" r="1.4"/><circle cx="268.8" cy="104.2" r="1.4"/><circle cx="254.0" cy="96.4" r="1.4"/><circle cx="263.5" cy="96.7" r="1.4"/><circle cx="251.6" cy="88.1" r="1.4"/><circle cx="256.3" cy="109.3" r="1.4"/><circle cx="244.9" cy="78.5" r="1.4"/><circle cx="261.8" cy="94.9" r="1.4"/><circle cx="250.2" cy="103.7" r="1.4"/><circle cx="250.6" cy="87.0" r="1.4"/><circle cx="252.0" cy="81.8" r="1.4"/><circle cx="234.0" cy="113.2" r="1.4"/><circle cx="253.7" cy="109.7" r="1.4"/><circle cx="273.2" cy="102.1" r="1.4"/><circle cx="244.1" cy="92.4" r="1.4"/><circle cx="259.2" cy="104.2" r="1.4"/><circle cx="257.0" cy="52.2" r="1.4"/><circle cx="262.2" cy="60.4" r="1.4"/><circle cx="247.8" cy="126.1" r="1.4"/><circle cx="250.1" cy="131.9" r="1.4"/><circle cx="244.3" cy="121.4" r="1.4"/><circle cx="282.3" cy="120.2" r="1.4"/><circle cx="253.5" cy="128.4" r="1.4"/><circle cx="245.5" cy="124.9" r="1.4"/><circle cx="198.3" cy="76.8" r="1.4"/></g>
<text transform="translate(290.20,47.00) scale(0.9091,1)" font-size="6.49" fill="#2b2b2b" stroke="#2b2b2b" stroke-width="0.05">r=0.27</text>
<text transform="translate(290.20,54.70) scale(0.9091,1)" font-size="6.49" fill="#2b2b2b" stroke="#2b2b2b" stroke-width="0.05">p&lt;0.001</text>
<text transform="translate(220.70,165.00) scale(0.9091,1)" font-size="8.86" fill="#2b2b2b" stroke="#2b2b2b" stroke-width="0.15">ESR1 FPKM (log<tspan font-size="6.20" dx="0.2" dy="4.6">2</tspan><tspan dx="0.3" dy="-4.6">)</tspan></text>
<text transform="translate(177.00,91.00) rotate(-90)" x="0" y="0" font-size="8.2" text-anchor="middle" fill="#2b2b2b" stroke="#2b2b2b" stroke-width="0.15">CDK7 FPKM (log<tspan font-size="5.74" dx="-0.2" dy="3.3">2</tspan><tspan dx="-0.2" dy="-3.3">)</tspan></text>
<text transform="translate(392.00,30.60) scale(0.9091,1)" font-size="9.13" font-weight="bold" fill="#111" stroke="#111" stroke-width="0.15">ER+:CDK7</text>
<line x1="360.40" y1="40.20" x2="360.40" y2="135.40" stroke="#222" stroke-width="1.2"/>
<line x1="358.20" y1="40.60" x2="360.40" y2="40.60" stroke="#222" stroke-width="0.9"/>
<text transform="translate(355.80,47.90) scale(0.8273,1)" font-size="8.80" text-anchor="end" fill="#2b2b2b" stroke="#2b2b2b" stroke-width="0.15">100</text>
<line x1="358.20" y1="59.50" x2="360.40" y2="59.50" stroke="#222" stroke-width="0.9"/>
<text transform="translate(355.80,65.60) scale(0.8273,1)" font-size="8.80" text-anchor="end" fill="#2b2b2b" stroke="#2b2b2b" stroke-width="0.15">80</text>
<line x1="358.20" y1="78.40" x2="360.40" y2="78.40" stroke="#222" stroke-width="0.9"/>
<text transform="translate(355.80,83.30) scale(0.8273,1)" font-size="8.80" text-anchor="end" fill="#2b2b2b" stroke="#2b2b2b" stroke-width="0.15">60</text>
<line x1="358.20" y1="97.30" x2="360.40" y2="97.30" stroke="#222" stroke-width="0.9"/>
<text transform="translate(355.80,100.90) scale(0.8273,1)" font-size="8.80" text-anchor="end" fill="#2b2b2b" stroke="#2b2b2b" stroke-width="0.15">40</text>
<line x1="358.20" y1="116.20" x2="360.40" y2="116.20" stroke="#222" stroke-width="0.9"/>
<text transform="translate(355.80,118.50) scale(0.8273,1)" font-size="8.80" text-anchor="end" fill="#2b2b2b" stroke="#2b2b2b" stroke-width="0.15">20</text>
<line x1="358.20" y1="135.00" x2="360.40" y2="135.00" stroke="#222" stroke-width="0.9"/>
<text transform="translate(355.80,136.10) scale(0.8273,1)" font-size="8.80" text-anchor="end" fill="#2b2b2b" stroke="#2b2b2b" stroke-width="0.15">0</text>
<line x1="359.90" y1="139.50" x2="481.30" y2="139.50" stroke="#222" stroke-width="1.2"/>
<line x1="360.50" y1="139.50" x2="360.50" y2="141.70" stroke="#222" stroke-width="0.9"/>
<text transform="translate(360.50,150.60) scale(0.8273,1)" font-size="8.80" text-anchor="middle" fill="#2b2b2b" stroke="#2b2b2b" stroke-width="0.15">0</text>
<line x1="384.50" y1="139.50" x2="384.50" y2="141.70" stroke="#222" stroke-width="0.9"/>
<text transform="translate(384.50,150.60) scale(0.8273,1)" font-size="8.80" text-anchor="middle" fill="#2b2b2b" stroke="#2b2b2b" stroke-width="0.15">34</text>
<line x1="409.00" y1="139.50" x2="409.00" y2="141.70" stroke="#222" stroke-width="0.9"/>
<text transform="translate(409.00,150.60) scale(0.8273,1)" font-size="8.80" text-anchor="middle" fill="#2b2b2b" stroke="#2b2b2b" stroke-width="0.15">68</text>
<line x1="433.30" y1="139.50" x2="433.30" y2="141.70" stroke="#222" stroke-width="0.9"/>
<text transform="translate(433.30,150.60) scale(0.8273,1)" font-size="8.80" text-anchor="middle" fill="#2b2b2b" stroke="#2b2b2b" stroke-width="0.15">102</text>
<line x1="456.50" y1="139.50" x2="456.50" y2="141.70" stroke="#222" stroke-width="0.9"/>
<text transform="translate(456.50,150.60) scale(0.8273,1)" font-size="8.80" text-anchor="middle" fill="#2b2b2b" stroke="#2b2b2b" stroke-width="0.15">136</text>
<line x1="480.40" y1="139.50" x2="480.40" y2="141.70" stroke="#222" stroke-width="0.9"/>
<text transform="translate(480.40,150.60) scale(0.8273,1)" font-size="8.80" text-anchor="middle" fill="#2b2b2b" stroke="#2b2b2b" stroke-width="0.15">170</text>
<text transform="translate(341.60,88.30) rotate(-90)" x="0" y="0" font-size="8.1" text-anchor="middle" fill="#2b2b2b" stroke="#2b2b2b" stroke-width="0.15">Percentage survival (%)</text>
<polyline points="360.60,40.60 374.40,40.60 374.40,41.60 383.60,41.60 383.60,42.60 385.00,42.60 385.00,44.80 386.40,44.80 386.40,46.00 390.00,46.00 390.00,47.10 405.00,47.10 405.00,49.10 420.60,49.10 420.60,51.00 421.40,51.00 421.40,52.80 440.60,52.80 440.60,61.40 442.00,61.40 442.00,69.20 445.60,69.20 445.60,78.40 447.00,78.40 447.00,79.90 448.00,79.90 448.00,87.70 464.80,87.70 464.80,111.10 479.50,111.10 479.50,111.10" fill="none" stroke="#3a5db0" stroke-width="1.25" stroke-linejoin="miter"/>
<polyline points="360.60,40.60 365.70,40.60 365.70,41.80 368.50,41.80 368.50,43.20 371.40,43.20 371.40,44.60 374.20,44.60 374.20,46.00 377.00,46.00 377.00,47.40 379.90,47.40 379.90,48.50 382.50,48.50 382.50,49.50 384.80,49.50 384.80,50.60 386.40,50.60 386.40,52.80 387.90,52.80 387.90,54.50 399.90,54.50 399.90,58.00 408.60,58.00 408.60,59.90 410.60,59.90 410.60,62.30 412.80,62.30 412.80,64.40 415.60,64.40 415.60,67.30 417.80,67.30 417.80,70.60 419.30,70.60 419.30,75.60 425.00,75.60 425.00,79.10 437.00,79.10 437.00,87.00 441.30,87.00 441.30,103.30 456.50,103.30 456.50,103.30" fill="none" stroke="#ee3b3b" stroke-width="1.25" stroke-linejoin="miter"/>
<line x1="363.00" y1="38.40" x2="363.00" y2="42.80" stroke="#3a5db0" stroke-width="0.85"/>
<line x1="365.00" y1="38.40" x2="365.00" y2="42.80" stroke="#3a5db0" stroke-width="0.85"/>
<line x1="367.00" y1="38.40" x2="367.00" y2="42.80" stroke="#3a5db0" stroke-width="0.85"/>
<line x1="369.00" y1="38.40" x2="369.00" y2="42.80" stroke="#3a5db0" stroke-width="0.85"/>
<line x1="371.00" y1="38.40" x2="371.00" y2="42.80" stroke="#3a5db0" stroke-width="0.85"/>
<line x1="373.00" y1="38.40" x2="373.00" y2="42.80" stroke="#3a5db0" stroke-width="0.85"/>
<line x1="376.00" y1="39.40" x2="376.00" y2="43.80" stroke="#3a5db0" stroke-width="0.85"/>
<line x1="379.00" y1="39.40" x2="379.00" y2="43.80" stroke="#3a5db0" stroke-width="0.85"/>
<line x1="381.00" y1="39.40" x2="381.00" y2="43.80" stroke="#3a5db0" stroke-width="0.85"/>
<line x1="388.00" y1="43.80" x2="388.00" y2="48.20" stroke="#3a5db0" stroke-width="0.85"/>
<line x1="393.00" y1="44.90" x2="393.00" y2="49.30" stroke="#3a5db0" stroke-width="0.85"/>
<line x1="396.00" y1="44.90" x2="396.00" y2="49.30" stroke="#3a5db0" stroke-width="0.85"/>
<line x1="399.00" y1="44.90" x2="399.00" y2="49.30" stroke="#3a5db0" stroke-width="0.85"/>
<line x1="402.00" y1="44.90" x2="402.00" y2="49.30" stroke="#3a5db0" stroke-width="0.85"/>
<line x1="406.00" y1="46.90" x2="406.00" y2="51.30" stroke="#3a5db0" stroke-width="0.85"/>
<line x1="408.00" y1="46.90" x2="408.00" y2="51.30" stroke="#3a5db0" stroke-width="0.85"/>
<line x1="414.00" y1="46.90" x2="414.00" y2="51.30" stroke="#3a5db0" stroke-width="0.85"/>
<line x1="417.00" y1="46.90" x2="417.00" y2="51.30" stroke="#3a5db0" stroke-width="0.85"/>
<line x1="423.00" y1="50.60" x2="423.00" y2="55.00" stroke="#3a5db0" stroke-width="0.85"/>
<line x1="425.00" y1="50.60" x2="425.00" y2="55.00" stroke="#3a5db0" stroke-width="0.85"/>
<line x1="428.00" y1="50.60" x2="428.00" y2="55.00" stroke="#3a5db0" stroke-width="0.85"/>
<line x1="431.00" y1="50.60" x2="431.00" y2="55.00" stroke="#3a5db0" stroke-width="0.85"/>
<line x1="434.00" y1="50.60" x2="434.00" y2="55.00" stroke="#3a5db0" stroke-width="0.85"/>
<line x1="437.00" y1="50.60" x2="437.00" y2="55.00" stroke="#3a5db0" stroke-width="0.85"/>
<line x1="456.00" y1="85.50" x2="456.00" y2="89.90" stroke="#3a5db0" stroke-width="0.85"/>
<line x1="460.00" y1="85.50" x2="460.00" y2="89.90" stroke="#3a5db0" stroke-width="0.85"/>
<line x1="463.00" y1="85.50" x2="463.00" y2="89.90" stroke="#3a5db0" stroke-width="0.85"/>
<line x1="479.50" y1="108.90" x2="479.50" y2="113.30" stroke="#3a5db0" stroke-width="0.85"/>
<line x1="362.00" y1="38.40" x2="362.00" y2="42.80" stroke="#ee3b3b" stroke-width="0.85"/>
<line x1="364.00" y1="38.40" x2="364.00" y2="42.80" stroke="#ee3b3b" stroke-width="0.85"/>
<line x1="366.00" y1="39.60" x2="366.00" y2="44.00" stroke="#ee3b3b" stroke-width="0.85"/>
<line x1="368.00" y1="39.60" x2="368.00" y2="44.00" stroke="#ee3b3b" stroke-width="0.85"/>
<line x1="370.00" y1="41.00" x2="370.00" y2="45.40" stroke="#ee3b3b" stroke-width="0.85"/>
<line x1="372.00" y1="42.40" x2="372.00" y2="46.80" stroke="#ee3b3b" stroke-width="0.85"/>
<line x1="375.00" y1="43.80" x2="375.00" y2="48.20" stroke="#ee3b3b" stroke-width="0.85"/>
<line x1="378.00" y1="45.20" x2="378.00" y2="49.60" stroke="#ee3b3b" stroke-width="0.85"/>
<line x1="381.00" y1="46.30" x2="381.00" y2="50.70" stroke="#ee3b3b" stroke-width="0.85"/>
<line x1="384.00" y1="47.30" x2="384.00" y2="51.70" stroke="#ee3b3b" stroke-width="0.85"/>
<line x1="392.00" y1="52.30" x2="392.00" y2="56.70" stroke="#ee3b3b" stroke-width="0.85"/>
<line x1="395.00" y1="52.30" x2="395.00" y2="56.70" stroke="#ee3b3b" stroke-width="0.85"/>
<line x1="398.00" y1="52.30" x2="398.00" y2="56.70" stroke="#ee3b3b" stroke-width="0.85"/>
<line x1="410.00" y1="57.70" x2="410.00" y2="62.10" stroke="#ee3b3b" stroke-width="0.85"/>
<line x1="430.00" y1="76.90" x2="430.00" y2="81.30" stroke="#ee3b3b" stroke-width="0.85"/>
<line x1="432.00" y1="76.90" x2="432.00" y2="81.30" stroke="#ee3b3b" stroke-width="0.85"/>
<line x1="436.00" y1="76.90" x2="436.00" y2="81.30" stroke="#ee3b3b" stroke-width="0.85"/>
<line x1="449.00" y1="101.10" x2="449.00" y2="105.50" stroke="#ee3b3b" stroke-width="0.85"/>
<line x1="456.50" y1="101.10" x2="456.50" y2="105.50" stroke="#ee3b3b" stroke-width="0.85"/>
<text transform="translate(466.40,45.30) scale(0.9091,1)" font-size="6.27" fill="#2b2b2b" stroke="#2b2b2b" stroke-width="0.05">P=0.01</text>
<text transform="translate(449.90,67.90) scale(0.9091,1)" font-size="6.60" font-weight="bold" fill="#2b3a9c" stroke="#2b3a9c" stroke-width="0.15">First sext</text>
<text transform="translate(449.10,74.20) scale(0.9091,1)" font-size="6.38" font-weight="bold" fill="#2b3a9c" stroke="#2b3a9c" stroke-width="0.15">Low CDK7</text>
<text transform="translate(386.00,97.40) scale(0.9091,1)" font-size="6.60" font-weight="bold" fill="#ea2a2a" stroke="#ea2a2a" stroke-width="0.15">Last sext</text>
<text transform="translate(385.00,103.20) scale(0.9091,1)" font-size="6.38" font-weight="bold" fill="#ea2a2a" stroke="#ea2a2a" stroke-width="0.15">High CDK7</text>
<text transform="translate(380.40,165.00) scale(0.9091,1)" font-size="8.69" fill="#2b2b2b" stroke="#2b2b2b" stroke-width="0.15">OS (months)</text>
<text transform="translate(445.80,165.00) scale(0.9091,1)" font-size="8.36" fill="#2b2b2b" stroke="#2b2b2b" stroke-width="0.15"># at risk</text>
<text transform="translate(358.50,175.80) scale(0.9091,1)" font-size="8.47" font-weight="bold" fill="#2b3a9c" stroke="#2b3a9c" stroke-width="0.15">118</text>
<text transform="translate(379.80,175.80) scale(0.9091,1)" font-size="8.47" font-weight="bold" fill="#2b3a9c" stroke="#2b3a9c" stroke-width="0.15">58</text>
<text transform="translate(398.00,175.80) scale(0.9091,1)" font-size="8.47" font-weight="bold" fill="#2b3a9c" stroke="#2b3a9c" stroke-width="0.15">32</text>
<text transform="translate(419.50,175.80) scale(0.9091,1)" font-size="8.47" font-weight="bold" fill="#2b3a9c" stroke="#2b3a9c" stroke-width="0.15">13</text>
<text transform="translate(438.30,175.80) scale(0.9091,1)" font-size="8.47" font-weight="bold" fill="#2b3a9c" stroke="#2b3a9c" stroke-width="0.15">4</text>
<text transform="translate(449.00,175.80) scale(0.9091,1)" font-size="8.47" font-weight="bold" fill="#2b3a9c" stroke="#2b3a9c" stroke-width="0.15">First sext</text>
<text transform="translate(358.50,189.50) scale(0.9091,1)" font-size="8.47" font-weight="bold" fill="#ea2a2a" stroke="#ea2a2a" stroke-width="0.15">118</text>
<text transform="translate(379.80,189.50) scale(0.9091,1)" font-size="8.47" font-weight="bold" fill="#ea2a2a" stroke="#ea2a2a" stroke-width="0.15">51</text>
<text transform="translate(398.00,189.50) scale(0.9091,1)" font-size="8.47" font-weight="bold" fill="#ea2a2a" stroke="#ea2a2a" stroke-width="0.15">25</text>
<text transform="translate(419.50,189.50) scale(0.9091,1)" font-size="8.47" font-weight="bold" fill="#ea2a2a" stroke="#ea2a2a" stroke-width="0.15">11</text>
<text transform="translate(438.30,189.50) scale(0.9091,1)" font-size="8.47" font-weight="bold" fill="#ea2a2a" stroke="#ea2a2a" stroke-width="0.15">0</text>
<text transform="translate(449.00,189.50) scale(0.9091,1)" font-size="8.47" font-weight="bold" fill="#ea2a2a" stroke="#ea2a2a" stroke-width="0.15">Last sext</text>
<text transform="translate(55.00,219.40) scale(0.9091,1)" font-size="8.58" font-weight="bold" fill="#111" stroke="#111" stroke-width="0.15">ER+:CDK7 (cut-off=0.85)</text>
<text transform="translate(67.00,229.20) scale(0.9091,1)" font-size="8.80" font-weight="bold" fill="#111" stroke="#111" stroke-width="0.15">(Patients on TAM)</text>
<line x1="32.70" y1="236.60" x2="32.70" y2="333.40" stroke="#222" stroke-width="1.2"/>
<line x1="30.50" y1="237.00" x2="32.70" y2="237.00" stroke="#222" stroke-width="0.9"/>
<text transform="translate(29.80,239.90) scale(0.8273,1)" font-size="8.80" text-anchor="end" fill="#2b2b2b" stroke="#2b2b2b" stroke-width="0.15">100</text>
<line x1="30.50" y1="256.10" x2="32.70" y2="256.10" stroke="#222" stroke-width="0.9"/>
<text transform="translate(29.80,259.00) scale(0.8273,1)" font-size="8.80" text-anchor="end" fill="#2b2b2b" stroke="#2b2b2b" stroke-width="0.15">80</text>
<line x1="30.50" y1="275.20" x2="32.70" y2="275.20" stroke="#222" stroke-width="0.9"/>
<text transform="translate(29.80,278.10) scale(0.8273,1)" font-size="8.80" text-anchor="end" fill="#2b2b2b" stroke="#2b2b2b" stroke-width="0.15">60</text>
<line x1="30.50" y1="294.40" x2="32.70" y2="294.40" stroke="#222" stroke-width="0.9"/>
<text transform="translate(29.80,297.30) scale(0.8273,1)" font-size="8.80" text-anchor="end" fill="#2b2b2b" stroke="#2b2b2b" stroke-width="0.15">40</text>
<line x1="30.50" y1="313.60" x2="32.70" y2="313.60" stroke="#222" stroke-width="0.9"/>
<text transform="translate(29.80,316.50) scale(0.8273,1)" font-size="8.80" text-anchor="end" fill="#2b2b2b" stroke="#2b2b2b" stroke-width="0.15">20</text>
<line x1="30.50" y1="332.80" x2="32.70" y2="332.80" stroke="#222" stroke-width="0.9"/>
<text transform="translate(29.80,335.70) scale(0.8273,1)" font-size="8.80" text-anchor="end" fill="#2b2b2b" stroke="#2b2b2b" stroke-width="0.15">0</text>
<line x1="32.20" y1="337.40" x2="154.60" y2="337.40" stroke="#222" stroke-width="1.2"/>
<line x1="33.60" y1="337.40" x2="33.60" y2="339.60" stroke="#222" stroke-width="0.9"/>
<text transform="translate(33.60,349.20) scale(0.8273,1)" font-size="8.80" text-anchor="middle" fill="#2b2b2b" stroke="#2b2b2b" stroke-width="0.15">0</text>
<line x1="56.50" y1="337.40" x2="56.50" y2="339.60" stroke="#222" stroke-width="0.9"/>
<text transform="translate(56.50,349.20) scale(0.8273,1)" font-size="8.80" text-anchor="middle" fill="#2b2b2b" stroke="#2b2b2b" stroke-width="0.15">34</text>
<line x1="84.80" y1="337.40" x2="84.80" y2="339.60" stroke="#222" stroke-width="0.9"/>
<text transform="translate(84.80,349.20) scale(0.8273,1)" font-size="8.80" text-anchor="middle" fill="#2b2b2b" stroke="#2b2b2b" stroke-width="0.15">68</text>
<line x1="108.10" y1="337.40" x2="108.10" y2="339.60" stroke="#222" stroke-width="0.9"/>
<text transform="translate(108.10,349.20) scale(0.8273,1)" font-size="8.80" text-anchor="middle" fill="#2b2b2b" stroke="#2b2b2b" stroke-width="0.15">102</text>
<line x1="131.70" y1="337.40" x2="131.70" y2="339.60" stroke="#222" stroke-width="0.9"/>
<text transform="translate(131.70,349.20) scale(0.8273,1)" font-size="8.80" text-anchor="middle" fill="#2b2b2b" stroke="#2b2b2b" stroke-width="0.15">136</text>
<line x1="151.60" y1="337.40" x2="151.60" y2="339.60" stroke="#222" stroke-width="0.9"/>
<text transform="translate(151.60,349.20) scale(0.8273,1)" font-size="8.80" text-anchor="middle" fill="#2b2b2b" stroke="#2b2b2b" stroke-width="0.15">170</text>
<text transform="translate(15.80,286.50) rotate(-90)" x="0" y="0" font-size="8.1" text-anchor="middle" fill="#2b2b2b" stroke="#2b2b2b" stroke-width="0.15">Percentage survival (%)</text>
<polyline points="32.70,237.00 40.70,237.00 40.70,240.50 44.90,240.50 44.90,245.10 61.00,245.10 61.00,248.60 65.60,248.60 65.60,264.00 68.10,264.00 68.10,269.30 72.70,269.30 72.70,273.30 74.10,273.30 74.10,280.40 80.50,280.40 80.50,284.50 85.00,284.50 85.00,285.80 90.30,285.80 90.30,291.90 92.30,291.90 92.30,298.00 130.40,298.00 130.40,307.20 145.00,307.20 145.00,307.20" fill="none" stroke="#ee3b3b" stroke-width="1.15" stroke-linejoin="miter"/>
<polyline points="32.70,237.00 42.00,237.00 42.00,237.00 45.60,237.00 45.60,237.60 49.90,237.60 49.90,238.20 54.20,238.20 54.20,239.10 58.40,239.10 58.40,240.00 62.70,240.00 62.70,242.00 66.00,242.00 66.00,244.00 68.10,244.00 68.10,245.30 71.00,245.30 71.00,246.50 74.00,246.50 74.00,248.30 77.00,248.30 77.00,250.30 80.00,250.30 80.00,252.50 83.00,252.50 83.00,254.80 86.00,254.80 86.00,257.50 86.20,257.50 86.20,261.30 103.30,261.30 103.30,261.20 111.70,261.20 111.70,264.50 112.40,264.50 112.40,269.00 115.50,269.00 115.50,272.90 154.40,272.90 154.40,272.90" fill="none" stroke="#3a5db0" stroke-width="1.0" stroke-dasharray="2.6,1.6" stroke-linejoin="miter"/>
<path d="M68.83,247.42 L70.83,244.22 L72.83,247.42 Z" fill="none" stroke="#3a5db0" stroke-width="0.75"/>
<path d="M69.57,249.24 L71.57,246.04 L73.57,249.24 Z" fill="none" stroke="#3a5db0" stroke-width="0.75"/>
<path d="M70.63,248.34 L72.63,245.14 L74.63,248.34 Z" fill="none" stroke="#3a5db0" stroke-width="0.75"/>
<path d="M70.13,248.00 L72.13,244.80 L74.13,248.00 Z" fill="none" stroke="#3a5db0" stroke-width="0.75"/>
<path d="M71.74,250.19 L73.74,246.99 L75.74,250.19 Z" fill="none" stroke="#3a5db0" stroke-width="0.75"/>
<path d="M72.25,248.91 L74.25,245.71 L76.25,248.91 Z" fill="none" stroke="#3a5db0" stroke-width="0.75"/>
<path d="M72.67,248.97 L74.67,245.77 L76.67,248.97 Z" fill="none" stroke="#3a5db0" stroke-width="0.75"/>
<path d="M72.81,250.24 L74.81,247.04 L76.81,250.24 Z" fill="none" stroke="#3a5db0" stroke-width="0.75"/>
<path d="M74.47,251.71 L76.47,248.51 L78.47,251.71 Z" fill="none" stroke="#3a5db0" stroke-width="0.75"/>
<path d="M74.97,250.37 L76.97,247.17 L78.97,250.37 Z" fill="none" stroke="#3a5db0" stroke-width="0.75"/>
<path d="M75.09,250.91 L77.09,247.71 L79.09,250.91 Z" fill="none" stroke="#3a5db0" stroke-width="0.75"/>
<path d="M75.54,251.46 L77.54,248.26 L79.54,251.46 Z" fill="none" stroke="#3a5db0" stroke-width="0.75"/>
<path d="M76.97,252.56 L78.97,249.36 L80.97,252.56 Z" fill="none" stroke="#3a5db0" stroke-width="0.75"/>
<path d="M77.10,253.98 L79.10,250.78 L81.10,253.98 Z" fill="none" stroke="#3a5db0" stroke-width="0.75"/>
<path d="M78.21,255.31 L80.21,252.11 L82.21,255.31 Z" fill="none" stroke="#3a5db0" stroke-width="0.75"/>
<path d="M78.47,254.42 L80.47,251.22 L82.47,254.42 Z" fill="none" stroke="#3a5db0" stroke-width="0.75"/>
<path d="M79.51,254.55 L81.51,251.35 L83.51,254.55 Z" fill="none" stroke="#3a5db0" stroke-width="0.75"/>
<path d="M79.42,256.03 L81.42,252.83 L83.42,256.03 Z" fill="none" stroke="#3a5db0" stroke-width="0.75"/>
<path d="M80.01,255.36 L82.01,252.16 L84.01,255.36 Z" fill="none" stroke="#3a5db0" stroke-width="0.75"/>
<path d="M80.86,256.14 L82.86,252.94 L84.86,256.14 Z" fill="none" stroke="#3a5db0" stroke-width="0.75"/>
<path d="M81.41,256.45 L83.41,253.25 L85.41,256.45 Z" fill="none" stroke="#3a5db0" stroke-width="0.75"/>
<path d="M82.16,255.75 L84.16,252.55 L86.16,255.75 Z" fill="none" stroke="#3a5db0" stroke-width="0.75"/>
<path d="M83.26,256.24 L85.26,253.04 L87.26,256.24 Z" fill="none" stroke="#3a5db0" stroke-width="0.75"/>
<path d="M83.53,258.14 L85.53,254.94 L87.53,258.14 Z" fill="none" stroke="#3a5db0" stroke-width="0.75"/>
<path d="M48.40,239.26 L50.00,236.70 L51.60,239.26 Z" fill="none" stroke="#3a5db0" stroke-width="0.6"/>
<path d="M50.40,239.76 L52.00,237.20 L53.60,239.76 Z" fill="none" stroke="#3a5db0" stroke-width="0.6"/>
<path d="M52.40,240.26 L54.00,237.70 L55.60,240.26 Z" fill="none" stroke="#3a5db0" stroke-width="0.6"/>
<path d="M61.40,243.56 L63.00,241.00 L64.60,243.56 Z" fill="none" stroke="#3a5db0" stroke-width="0.6"/>
<path d="M63.40,244.56 L65.00,242.00 L66.60,244.56 Z" fill="none" stroke="#3a5db0" stroke-width="0.6"/>
<path d="M87.40,261.76 L89.00,259.20 L90.60,261.76 Z" fill="none" stroke="#3a5db0" stroke-width="0.6"/>
<path d="M90.40,261.76 L92.00,259.20 L93.60,261.76 Z" fill="none" stroke="#3a5db0" stroke-width="0.6"/>
<path d="M93.40,261.96 L95.00,259.40 L96.60,261.96 Z" fill="none" stroke="#3a5db0" stroke-width="0.6"/>
<path d="M96.40,261.96 L98.00,259.40 L99.60,261.96 Z" fill="none" stroke="#3a5db0" stroke-width="0.6"/>
<path d="M99.40,262.16 L101.00,259.60 L102.60,262.16 Z" fill="none" stroke="#3a5db0" stroke-width="0.6"/>
<path d="M104.40,265.16 L106.00,262.60 L107.60,265.16 Z" fill="none" stroke="#3a5db0" stroke-width="0.6"/>
<path d="M107.40,265.16 L109.00,262.60 L110.60,265.16 Z" fill="none" stroke="#3a5db0" stroke-width="0.6"/>
<path d="M112.40,271.46 L114.00,268.90 L115.60,271.46 Z" fill="none" stroke="#3a5db0" stroke-width="0.6"/>
<path d="M116.40,273.56 L118.00,271.00 L119.60,273.56 Z" fill="none" stroke="#3a5db0" stroke-width="0.6"/>
<path d="M120.40,273.56 L122.00,271.00 L123.60,273.56 Z" fill="none" stroke="#3a5db0" stroke-width="0.6"/>
<path d="M124.40,273.56 L126.00,271.00 L127.60,273.56 Z" fill="none" stroke="#3a5db0" stroke-width="0.6"/>
<path d="M129.40,273.56 L131.00,271.00 L132.60,273.56 Z" fill="none" stroke="#3a5db0" stroke-width="0.6"/>
<path d="M133.40,273.56 L135.00,271.00 L136.60,273.56 Z" fill="none" stroke="#3a5db0" stroke-width="0.6"/>
<path d="M138.40,273.56 L140.00,271.00 L141.60,273.56 Z" fill="none" stroke="#3a5db0" stroke-width="0.6"/>
<path d="M144.40,273.56 L146.00,271.00 L147.60,273.56 Z" fill="none" stroke="#3a5db0" stroke-width="0.6"/>
<path d="M150.40,273.56 L152.00,271.00 L153.60,273.56 Z" fill="none" stroke="#3a5db0" stroke-width="0.6"/>
<path d="M101.50,298.50 L103.00,296.10 L104.50,298.50 Z" fill="none" stroke="#ee3b3b" stroke-width="0.5"/>
<path d="M108.50,298.50 L110.00,296.10 L111.50,298.50 Z" fill="none" stroke="#ee3b3b" stroke-width="0.5"/>
<path d="M132.50,307.70 L134.00,305.30 L135.50,307.70 Z" fill="none" stroke="#ee3b3b" stroke-width="0.5"/>
<path d="M138.50,307.70 L140.00,305.30 L141.50,307.70 Z" fill="none" stroke="#ee3b3b" stroke-width="0.5"/>
<path d="M142.50,307.70 L144.00,305.30 L145.50,307.70 Z" fill="none" stroke="#ee3b3b" stroke-width="0.5"/>
<text transform="translate(129.90,246.00) scale(0.9091,1)" font-size="6.38" fill="#2b2b2b" stroke="#2b2b2b" stroke-width="0.05">P=0.0004</text>
<text transform="translate(111.90,260.20) scale(0.9091,1)" font-size="6.71" fill="#2b3a9c" stroke="#2b3a9c" stroke-width="0.05">Low CDK7(NA)</text>
<text transform="translate(51.10,307.00) scale(0.9091,1)" font-size="6.82" fill="#ea2a2a" stroke="#ea2a2a" stroke-width="0.05">High CDK7(68.5)</text>
<text transform="translate(59.10,359.80) scale(0.9091,1)" font-size="8.80" fill="#2b2b2b" stroke="#2b2b2b" stroke-width="0.15">OS (months)</text>
<text transform="translate(126.00,359.80) scale(0.9091,1)" font-size="8.80" fill="#2b2b2b" stroke="#2b2b2b" stroke-width="0.15"># at risk</text>
<text transform="translate(28.40,369.80) scale(0.9091,1)" font-size="8.80" font-weight="bold" fill="#2b3a9c" stroke="#2b3a9c" stroke-width="0.15">131</text>
<text transform="translate(50.60,369.80) scale(0.9091,1)" font-size="8.80" font-weight="bold" fill="#2b3a9c" stroke="#2b3a9c" stroke-width="0.15">127</text>
<text transform="translate(79.00,369.80) scale(0.9091,1)" font-size="8.80" font-weight="bold" fill="#2b3a9c" stroke="#2b3a9c" stroke-width="0.15">34</text>
<text transform="translate(103.30,369.80) scale(0.9091,1)" font-size="8.80" font-weight="bold" fill="#2b3a9c" stroke="#2b3a9c" stroke-width="0.15">19</text>
<text transform="translate(126.00,369.80) scale(0.9091,1)" font-size="8.80" font-weight="bold" fill="#2b3a9c" stroke="#2b3a9c" stroke-width="0.15">4</text>
<text transform="translate(144.00,369.80) scale(0.9091,1)" font-size="8.80" font-weight="bold" fill="#2b3a9c" stroke="#2b3a9c" stroke-width="0.15">Low</text>
<text transform="translate(29.30,382.00) scale(0.9091,1)" font-size="8.80" font-weight="bold" fill="#ea2a2a" stroke="#ea2a2a" stroke-width="0.15">24</text>
<text transform="translate(52.90,382.00) scale(0.9091,1)" font-size="8.80" font-weight="bold" fill="#ea2a2a" stroke="#ea2a2a" stroke-width="0.15">22</text>
<text transform="translate(80.50,382.00) scale(0.9091,1)" font-size="8.80" font-weight="bold" fill="#ea2a2a" stroke="#ea2a2a" stroke-width="0.15">8</text>
<text transform="translate(106.00,382.00) scale(0.9091,1)" font-size="8.80" font-weight="bold" fill="#ea2a2a" stroke="#ea2a2a" stroke-width="0.15">5</text>
<text transform="translate(126.90,382.00) scale(0.9091,1)" font-size="8.80" font-weight="bold" fill="#ea2a2a" stroke="#ea2a2a" stroke-width="0.15">2</text>
<text transform="translate(144.00,382.00) scale(0.9091,1)" font-size="8.80" font-weight="bold" fill="#ea2a2a" stroke="#ea2a2a" stroke-width="0.15">High</text>
<text transform="translate(380.80,219.40) scale(0.9091,1)" font-size="8.80" font-weight="bold" fill="#111" stroke="#111" stroke-width="0.15">MYC (cut-off=0.71)</text>
<text transform="translate(381.80,229.20) scale(0.9091,1)" font-size="8.80" font-weight="bold" fill="#111" stroke="#111" stroke-width="0.15">(Patients on TAM)</text>
<line x1="361.10" y1="237.00" x2="361.10" y2="330.20" stroke="#222" stroke-width="1.2"/>
<line x1="358.90" y1="237.40" x2="361.10" y2="237.40" stroke="#222" stroke-width="0.9"/>
<text transform="translate(355.10,242.40) scale(0.8273,1)" font-size="8.80" text-anchor="end" fill="#2b2b2b" stroke="#2b2b2b" stroke-width="0.15">100</text>
<line x1="358.90" y1="255.90" x2="361.10" y2="255.90" stroke="#222" stroke-width="0.9"/>
<text transform="translate(355.10,259.90) scale(0.8273,1)" font-size="8.80" text-anchor="end" fill="#2b2b2b" stroke="#2b2b2b" stroke-width="0.15">80</text>
<line x1="358.90" y1="274.30" x2="361.10" y2="274.30" stroke="#222" stroke-width="0.9"/>
<text transform="translate(355.10,278.20) scale(0.8273,1)" font-size="8.80" text-anchor="end" fill="#2b2b2b" stroke="#2b2b2b" stroke-width="0.15">60</text>
<line x1="358.90" y1="292.80" x2="361.10" y2="292.80" stroke="#222" stroke-width="0.9"/>
<text transform="translate(355.10,295.90) scale(0.8273,1)" font-size="8.80" text-anchor="end" fill="#2b2b2b" stroke="#2b2b2b" stroke-width="0.15">40</text>
<line x1="358.90" y1="311.20" x2="361.10" y2="311.20" stroke="#222" stroke-width="0.9"/>
<text transform="translate(355.10,313.40) scale(0.8273,1)" font-size="8.80" text-anchor="end" fill="#2b2b2b" stroke="#2b2b2b" stroke-width="0.15">20</text>
<line x1="358.90" y1="329.60" x2="361.10" y2="329.60" stroke="#222" stroke-width="0.9"/>
<text transform="translate(355.10,330.50) scale(0.8273,1)" font-size="8.80" text-anchor="end" fill="#2b2b2b" stroke="#2b2b2b" stroke-width="0.15">0</text>
<line x1="361.10" y1="334.00" x2="482.20" y2="334.00" stroke="#222" stroke-width="1.2"/>
<line x1="362.00" y1="334.00" x2="362.00" y2="336.20" stroke="#222" stroke-width="0.9"/>
<text transform="translate(362.10,346.70) scale(0.8273,1)" font-size="8.80" text-anchor="middle" fill="#2b2b2b" stroke="#2b2b2b" stroke-width="0.15">0</text>
<line x1="385.50" y1="334.00" x2="385.50" y2="336.20" stroke="#222" stroke-width="0.9"/>
<text transform="translate(385.30,346.70) scale(0.8273,1)" font-size="8.80" text-anchor="middle" fill="#2b2b2b" stroke="#2b2b2b" stroke-width="0.15">34</text>
<line x1="412.40" y1="334.00" x2="412.40" y2="336.20" stroke="#222" stroke-width="0.9"/>
<text transform="translate(411.30,346.70) scale(0.8273,1)" font-size="8.80" text-anchor="middle" fill="#2b2b2b" stroke="#2b2b2b" stroke-width="0.15">72</text>
<line x1="436.10" y1="334.00" x2="436.10" y2="336.20" stroke="#222" stroke-width="0.9"/>
<text transform="translate(434.20,346.70) scale(0.8273,1)" font-size="8.80" text-anchor="middle" fill="#2b2b2b" stroke="#2b2b2b" stroke-width="0.15">106</text>
<line x1="461.00" y1="334.00" x2="461.00" y2="336.20" stroke="#222" stroke-width="0.9"/>
<text transform="translate(458.10,346.70) scale(0.8273,1)" font-size="8.80" text-anchor="middle" fill="#2b2b2b" stroke="#2b2b2b" stroke-width="0.15">141</text>
<line x1="481.50" y1="334.00" x2="481.50" y2="336.20" stroke="#222" stroke-width="0.9"/>
<text transform="translate(477.80,346.70) scale(0.8273,1)" font-size="8.80" text-anchor="middle" fill="#2b2b2b" stroke="#2b2b2b" stroke-width="0.15">170</text>
<text transform="translate(342.00,290.00) rotate(-90)" x="0" y="0" font-size="7.5" text-anchor="middle" fill="#2b2b2b" stroke="#2b2b2b" stroke-width="0.15">Percentage survival (%)</text>
<polyline points="361.10,237.40 372.20,237.40 372.20,238.40 377.90,238.40 377.90,239.80 379.30,239.80 379.30,243.10 389.30,243.10 389.30,246.20 390.70,246.20 390.70,250.50 392.10,250.50 392.10,255.50 393.60,255.50 393.60,258.00 395.30,258.00 395.30,260.40 397.80,260.40 397.80,262.60 400.70,262.60 400.70,265.40 401.40,265.40 401.40,269.00 402.80,269.00 402.80,271.10 408.50,271.10 408.50,273.30 409.90,273.30 409.90,276.80 412.00,276.80 412.00,279.70 416.30,279.70 416.30,281.80 418.50,281.80 418.50,284.60 420.60,284.60 420.60,288.20 427.00,288.20 427.00,289.50 430.60,289.50 430.60,292.00 480.70,292.00 480.70,292.00" fill="none" stroke="#ee3b3b" stroke-width="1.15" stroke-linejoin="miter"/>
<polyline points="361.10,237.40 379.30,237.40 379.30,238.40 387.90,238.40 387.90,241.20 392.10,241.20 392.10,242.20 396.40,242.20 396.40,244.10 399.00,244.10 399.00,245.20 402.00,245.20 402.00,247.20 405.00,247.20 405.00,249.20 408.00,249.20 408.00,251.20 411.00,251.20 411.00,253.20 414.50,253.20 414.50,255.50 415.00,255.50 415.00,256.40 439.90,256.40 439.90,260.60 443.40,260.60 443.40,262.00 444.50,262.00 444.50,267.80 457.00,267.80 457.00,279.90 470.50,279.90 470.50,279.90" fill="none" stroke="#3a5db0" stroke-width="1.0" stroke-dasharray="2.6,1.6" stroke-linejoin="miter"/>
<path d="M396.18,244.87 L398.18,241.67 L400.18,244.87 Z" fill="none" stroke="#3a5db0" stroke-width="0.75"/>
<path d="M396.46,245.74 L398.46,242.54 L400.46,245.74 Z" fill="none" stroke="#3a5db0" stroke-width="0.75"/>
<path d="M397.35,246.51 L399.35,243.31 L401.35,246.51 Z" fill="none" stroke="#3a5db0" stroke-width="0.75"/>
<path d="M397.88,247.73 L399.88,244.53 L401.88,247.73 Z" fill="none" stroke="#3a5db0" stroke-width="0.75"/>
<path d="M398.83,245.94 L400.83,242.74 L402.83,245.94 Z" fill="none" stroke="#3a5db0" stroke-width="0.75"/>
<path d="M399.37,249.24 L401.37,246.04 L403.37,249.24 Z" fill="none" stroke="#3a5db0" stroke-width="0.75"/>
<path d="M399.52,248.55 L401.52,245.35 L403.52,248.55 Z" fill="none" stroke="#3a5db0" stroke-width="0.75"/>
<path d="M401.30,248.29 L403.30,245.09 L405.30,248.29 Z" fill="none" stroke="#3a5db0" stroke-width="0.75"/>
<path d="M401.51,248.73 L403.51,245.53 L405.51,248.73 Z" fill="none" stroke="#3a5db0" stroke-width="0.75"/>
<path d="M401.79,249.88 L403.79,246.68 L405.79,249.88 Z" fill="none" stroke="#3a5db0" stroke-width="0.75"/>
<path d="M402.77,249.43 L404.77,246.23 L406.77,249.43 Z" fill="none" stroke="#3a5db0" stroke-width="0.75"/>
<path d="M403.29,250.46 L405.29,247.26 L407.29,250.46 Z" fill="none" stroke="#3a5db0" stroke-width="0.75"/>
<path d="M404.24,249.50 L406.24,246.30 L408.24,249.50 Z" fill="none" stroke="#3a5db0" stroke-width="0.75"/>
<path d="M404.08,250.52 L406.08,247.32 L408.08,250.52 Z" fill="none" stroke="#3a5db0" stroke-width="0.75"/>
<path d="M404.93,252.58 L406.93,249.38 L408.93,252.58 Z" fill="none" stroke="#3a5db0" stroke-width="0.75"/>
<path d="M405.75,253.20 L407.75,250.00 L409.75,253.20 Z" fill="none" stroke="#3a5db0" stroke-width="0.75"/>
<path d="M406.36,251.91 L408.36,248.71 L410.36,251.91 Z" fill="none" stroke="#3a5db0" stroke-width="0.75"/>
<path d="M407.33,251.73 L409.33,248.53 L411.33,251.73 Z" fill="none" stroke="#3a5db0" stroke-width="0.75"/>
<path d="M408.33,254.40 L410.33,251.20 L412.33,254.40 Z" fill="none" stroke="#3a5db0" stroke-width="0.75"/>
<path d="M408.18,253.28 L410.18,250.08 L412.18,253.28 Z" fill="none" stroke="#3a5db0" stroke-width="0.75"/>
<path d="M409.40,255.12 L411.40,251.92 L413.40,255.12 Z" fill="none" stroke="#3a5db0" stroke-width="0.75"/>
<path d="M409.83,253.36 L411.83,250.16 L413.83,253.36 Z" fill="none" stroke="#3a5db0" stroke-width="0.75"/>
<path d="M410.61,253.76 L412.61,250.56 L414.61,253.76 Z" fill="none" stroke="#3a5db0" stroke-width="0.75"/>
<path d="M411.08,255.70 L413.08,252.50 L415.08,255.70 Z" fill="none" stroke="#3a5db0" stroke-width="0.75"/>
<path d="M412.08,256.39 L414.08,253.19 L416.08,256.39 Z" fill="none" stroke="#3a5db0" stroke-width="0.75"/>
<path d="M411.63,257.70 L413.63,254.50 L415.63,257.70 Z" fill="none" stroke="#3a5db0" stroke-width="0.75"/>
<path d="M380.40,239.56 L382.00,237.00 L383.60,239.56 Z" fill="none" stroke="#3a5db0" stroke-width="0.6"/>
<path d="M382.40,239.86 L384.00,237.30 L385.60,239.86 Z" fill="none" stroke="#3a5db0" stroke-width="0.6"/>
<path d="M384.40,240.46 L386.00,237.90 L387.60,240.46 Z" fill="none" stroke="#3a5db0" stroke-width="0.6"/>
<path d="M390.40,243.16 L392.00,240.60 L393.60,243.16 Z" fill="none" stroke="#3a5db0" stroke-width="0.6"/>
<path d="M392.40,243.96 L394.00,241.40 L395.60,243.96 Z" fill="none" stroke="#3a5db0" stroke-width="0.6"/>
<path d="M415.40,256.96 L417.00,254.40 L418.60,256.96 Z" fill="none" stroke="#3a5db0" stroke-width="0.6"/>
<path d="M418.40,256.96 L420.00,254.40 L421.60,256.96 Z" fill="none" stroke="#3a5db0" stroke-width="0.6"/>
<path d="M421.40,256.96 L423.00,254.40 L424.60,256.96 Z" fill="none" stroke="#3a5db0" stroke-width="0.6"/>
<path d="M424.40,256.96 L426.00,254.40 L427.60,256.96 Z" fill="none" stroke="#3a5db0" stroke-width="0.6"/>
<path d="M427.40,256.96 L429.00,254.40 L430.60,256.96 Z" fill="none" stroke="#3a5db0" stroke-width="0.6"/>
<path d="M430.40,256.96 L432.00,254.40 L433.60,256.96 Z" fill="none" stroke="#3a5db0" stroke-width="0.6"/>
<path d="M434.40,256.96 L436.00,254.40 L437.60,256.96 Z" fill="none" stroke="#3a5db0" stroke-width="0.6"/>
<path d="M439.40,261.16 L441.00,258.60 L442.60,261.16 Z" fill="none" stroke="#3a5db0" stroke-width="0.6"/>
<path d="M446.40,268.36 L448.00,265.80 L449.60,268.36 Z" fill="none" stroke="#3a5db0" stroke-width="0.6"/>
<path d="M449.40,268.36 L451.00,265.80 L452.60,268.36 Z" fill="none" stroke="#3a5db0" stroke-width="0.6"/>
<path d="M452.40,268.36 L454.00,265.80 L455.60,268.36 Z" fill="none" stroke="#3a5db0" stroke-width="0.6"/>
<path d="M457.40,280.46 L459.00,277.90 L460.60,280.46 Z" fill="none" stroke="#3a5db0" stroke-width="0.6"/>
<path d="M460.40,280.46 L462.00,277.90 L463.60,280.46 Z" fill="none" stroke="#3a5db0" stroke-width="0.6"/>
<path d="M463.40,280.46 L465.00,277.90 L466.60,280.46 Z" fill="none" stroke="#3a5db0" stroke-width="0.6"/>
<path d="M403.60,273.64 L405.00,271.40 L406.40,273.64 Z" fill="none" stroke="#ee3b3b" stroke-width="0.5"/>
<path d="M405.60,271.84 L407.00,269.60 L408.40,271.84 Z" fill="none" stroke="#ee3b3b" stroke-width="0.5"/>
<path d="M406.60,273.64 L408.00,271.40 L409.40,273.64 Z" fill="none" stroke="#ee3b3b" stroke-width="0.5"/>
<path d="M411.60,280.14 L413.00,277.90 L414.40,280.14 Z" fill="none" stroke="#ee3b3b" stroke-width="0.5"/>
<path d="M416.60,285.04 L418.00,282.80 L419.40,285.04 Z" fill="none" stroke="#ee3b3b" stroke-width="0.5"/>
<path d="M434.60,292.44 L436.00,290.20 L437.40,292.44 Z" fill="none" stroke="#ee3b3b" stroke-width="0.5"/>
<path d="M440.60,292.44 L442.00,290.20 L443.40,292.44 Z" fill="none" stroke="#ee3b3b" stroke-width="0.5"/>
<path d="M446.60,292.44 L448.00,290.20 L449.40,292.44 Z" fill="none" stroke="#ee3b3b" stroke-width="0.5"/>
<path d="M453.60,292.44 L455.00,290.20 L456.40,292.44 Z" fill="none" stroke="#ee3b3b" stroke-width="0.5"/>
<path d="M460.60,292.44 L462.00,290.20 L463.40,292.44 Z" fill="none" stroke="#ee3b3b" stroke-width="0.5"/>
<path d="M466.60,292.44 L468.00,290.20 L469.40,292.44 Z" fill="none" stroke="#ee3b3b" stroke-width="0.5"/>
<path d="M472.60,292.44 L474.00,290.20 L475.40,292.44 Z" fill="none" stroke="#ee3b3b" stroke-width="0.5"/>
<path d="M478.60,292.44 L480.00,290.20 L481.40,292.44 Z" fill="none" stroke="#ee3b3b" stroke-width="0.5"/>
<text transform="translate(457.90,242.20) scale(0.9091,1)" font-size="6.38" fill="#2b2b2b" stroke="#2b2b2b" stroke-width="0.05">P=0.0007</text>
<text transform="translate(435.00,251.60) scale(0.9091,1)" font-size="6.49" fill="#2b3a9c" stroke="#2b3a9c" stroke-width="0.05">Low c-MYC (NA)</text>
<text transform="translate(386.80,301.10) scale(0.9091,1)" font-size="6.71" fill="#ea2a2a" stroke="#ea2a2a" stroke-width="0.05">High c-MYC (79.8)</text>
<text transform="translate(378.50,359.80) scale(0.9091,1)" font-size="8.80" fill="#2b2b2b" stroke="#2b2b2b" stroke-width="0.15">OS (months)</text>
<text transform="translate(446.80,359.80) scale(0.9091,1)" font-size="8.80" fill="#2b2b2b" stroke="#2b2b2b" stroke-width="0.15"># at risk</text>
<text transform="translate(360.30,369.10) scale(0.9091,1)" font-size="8.80" font-weight="bold" fill="#2b3a9c" stroke="#2b3a9c" stroke-width="0.15">110</text>
<text transform="translate(383.00,369.10) scale(0.9091,1)" font-size="8.80" font-weight="bold" fill="#2b3a9c" stroke="#2b3a9c" stroke-width="0.15">107</text>
<text transform="translate(406.60,369.10) scale(0.9091,1)" font-size="8.80" font-weight="bold" fill="#2b3a9c" stroke="#2b3a9c" stroke-width="0.15">28</text>
<text transform="translate(429.60,369.10) scale(0.9091,1)" font-size="8.80" font-weight="bold" fill="#2b3a9c" stroke="#2b3a9c" stroke-width="0.15">16</text>
<text transform="translate(454.20,369.10) scale(0.9091,1)" font-size="8.80" font-weight="bold" fill="#2b3a9c" stroke="#2b3a9c" stroke-width="0.15">3</text>
<text transform="translate(468.40,369.10) scale(0.9091,1)" font-size="8.80" font-weight="bold" fill="#2b3a9c" stroke="#2b3a9c" stroke-width="0.15">Low</text>
<text transform="translate(361.10,381.20) scale(0.9091,1)" font-size="8.80" font-weight="bold" fill="#ea2a2a" stroke="#ea2a2a" stroke-width="0.15">45</text>
<text transform="translate(384.40,381.20) scale(0.9091,1)" font-size="8.80" font-weight="bold" fill="#ea2a2a" stroke="#ea2a2a" stroke-width="0.15">42</text>
<text transform="translate(407.20,381.20) scale(0.9091,1)" font-size="8.80" font-weight="bold" fill="#ea2a2a" stroke="#ea2a2a" stroke-width="0.15">14</text>
<text transform="translate(431.70,381.20) scale(0.9091,1)" font-size="8.80" font-weight="bold" fill="#ea2a2a" stroke="#ea2a2a" stroke-width="0.15">8</text>
<text transform="translate(454.20,381.20) scale(0.9091,1)" font-size="8.80" font-weight="bold" fill="#ea2a2a" stroke="#ea2a2a" stroke-width="0.15">3</text>
<text transform="translate(467.00,381.20) scale(0.9091,1)" font-size="8.80" font-weight="bold" fill="#ea2a2a" stroke="#ea2a2a" stroke-width="0.15">High</text>
<text transform="translate(221.00,224.30) scale(0.9091,1)" font-size="8.69" font-weight="bold" fill="#111" stroke="#111" stroke-width="0.15">(Patients on TAM)</text>
<rect x="194.4" y="232.4" width="122.80" height="102.80" fill="none" stroke="#777" stroke-width="0.9"/>
<line x1="192.40" y1="236.80" x2="194.40" y2="236.80" stroke="#777" stroke-width="0.8"/>
<text transform="translate(190.80,240.20) scale(0.8273,1)" font-size="8.80" text-anchor="end" fill="#2b2b2b" stroke="#2b2b2b" stroke-width="0.15">4</text>
<line x1="192.40" y1="259.80" x2="194.40" y2="259.80" stroke="#777" stroke-width="0.8"/>
<text transform="translate(190.80,263.20) scale(0.8273,1)" font-size="8.80" text-anchor="end" fill="#2b2b2b" stroke="#2b2b2b" stroke-width="0.15">3</text>
<line x1="192.40" y1="283.00" x2="194.40" y2="283.00" stroke="#777" stroke-width="0.8"/>
<text transform="translate(190.80,286.40) scale(0.8273,1)" font-size="8.80" text-anchor="end" fill="#2b2b2b" stroke="#2b2b2b" stroke-width="0.15">2</text>
<line x1="192.40" y1="308.50" x2="194.40" y2="308.50" stroke="#777" stroke-width="0.8"/>
<text transform="translate(190.80,311.90) scale(0.8273,1)" font-size="8.80" text-anchor="end" fill="#2b2b2b" stroke="#2b2b2b" stroke-width="0.15">1</text>
<line x1="192.40" y1="331.00" x2="194.40" y2="331.00" stroke="#777" stroke-width="0.8"/>
<text transform="translate(190.80,334.40) scale(0.8273,1)" font-size="8.80" text-anchor="end" fill="#2b2b2b" stroke="#2b2b2b" stroke-width="0.15">0</text>
<text transform="translate(212.80,346.20) scale(0.8273,1)" font-size="8.80" text-anchor="middle" fill="#2b2b2b" stroke="#2b2b2b" stroke-width="0.15">0</text>
<text transform="translate(241.30,346.20) scale(0.8273,1)" font-size="8.80" text-anchor="middle" fill="#2b2b2b" stroke="#2b2b2b" stroke-width="0.15">1</text>
<text transform="translate(270.10,346.20) scale(0.8273,1)" font-size="8.80" text-anchor="middle" fill="#2b2b2b" stroke="#2b2b2b" stroke-width="0.15">2</text>
<text transform="translate(298.30,346.20) scale(0.8273,1)" font-size="8.80" text-anchor="middle" fill="#2b2b2b" stroke="#2b2b2b" stroke-width="0.15">3</text>
<text transform="translate(178.40,287.60) rotate(-90)" x="0" y="0" font-size="8.0" text-anchor="middle" fill="#2b2b2b" stroke="#2b2b2b" stroke-width="0.15">CDK7 microarrays (log<tspan font-size="5.60" dx="-0.2" dy="3.3">2</tspan><tspan dx="-0.2" dy="-3.3">)</tspan></text>
<text transform="translate(217.90,360.40) scale(0.9091,1)" font-size="8.80" fill="#2b2b2b" stroke="#2b2b2b" stroke-width="0.15">MYC microarrays (log<tspan font-size="6.16" dx="0.2" dy="4.6">2</tspan><tspan dx="0.3" dy="-4.6">)</tspan></text>
<text transform="translate(295.90,241.00) scale(0.9091,1)" font-size="6.60" fill="#2b2b2b" stroke="#2b2b2b" stroke-width="0.05">n=155</text>
<text transform="translate(293.90,323.10) scale(0.9091,1)" font-size="6.49" fill="#2b2b2b" stroke="#2b2b2b" stroke-width="0.05">r=0.19</text>
<text transform="translate(290.40,331.20) scale(0.9091,1)" font-size="6.49" fill="#2b2b2b" stroke="#2b2b2b" stroke-width="0.05">P=0.0205</text>
<g fill="none" stroke="#5560b8" stroke-width="0.55" stroke-opacity="0.55"><circle cx="219.2" cy="240.1" r="1.6"/><circle cx="228.8" cy="237.5" r="1.6"/><circle cx="246.9" cy="256.2" r="1.6"/><circle cx="292.8" cy="256.4" r="1.6"/><circle cx="304.1" cy="253.9" r="1.6"/><circle cx="215.9" cy="265.5" r="1.6"/><circle cx="227.5" cy="267.3" r="1.6"/><circle cx="252.0" cy="266.8" r="1.6"/><circle cx="266.6" cy="269.0" r="1.6"/><circle cx="283.7" cy="268.3" r="1.6"/><circle cx="282.2" cy="269.0" r="1.6"/><circle cx="304.1" cy="261.7" r="1.6"/><circle cx="305.9" cy="264.3" r="1.6"/><circle cx="298.8" cy="269.0" r="1.6"/><circle cx="306.9" cy="271.3" r="1.6"/><circle cx="238.9" cy="272.3" r="1.6"/><circle cx="245.2" cy="272.3" r="1.6"/><circle cx="275.4" cy="271.6" r="1.6"/><circle cx="279.7" cy="274.8" r="1.6"/><circle cx="289.8" cy="273.1" r="1.6"/><circle cx="242.9" cy="278.1" r="1.6"/><circle cx="248.2" cy="278.9" r="1.6"/><circle cx="247.4" cy="281.1" r="1.6"/><circle cx="281.2" cy="278.6" r="1.6"/><circle cx="270.6" cy="282.2" r="1.6"/><circle cx="284.0" cy="283.9" r="1.6"/><circle cx="223.0" cy="287.2" r="1.6"/><circle cx="234.3" cy="289.7" r="1.6"/><circle cx="221.0" cy="293.5" r="1.6"/><circle cx="248.9" cy="293.5" r="1.6"/><circle cx="236.3" cy="296.3" r="1.6"/><circle cx="246.2" cy="299.5" r="1.6"/><circle cx="274.1" cy="297.5" r="1.6"/><circle cx="218.7" cy="303.8" r="1.6"/><circle cx="224.2" cy="305.8" r="1.6"/><circle cx="236.3" cy="306.3" r="1.6"/><circle cx="212.4" cy="307.9" r="1.6"/><circle cx="215.4" cy="310.9" r="1.6"/><circle cx="216.7" cy="314.7" r="1.6"/><circle cx="217.9" cy="317.7" r="1.6"/><circle cx="209.1" cy="325.2" r="1.6"/><circle cx="213.2" cy="324.2" r="1.6"/></g>
<g fill="none" stroke="#5560b8" stroke-width="0.55" stroke-opacity="0.62"><circle cx="245.2" cy="319.5" r="1.6"/><circle cx="224.1" cy="323.8" r="1.6"/><circle cx="232.3" cy="317.7" r="1.6"/><circle cx="236.4" cy="324.1" r="1.6"/><circle cx="230.6" cy="323.2" r="1.6"/><circle cx="236.7" cy="317.0" r="1.6"/><circle cx="235.7" cy="318.5" r="1.6"/><circle cx="236.5" cy="319.0" r="1.6"/><circle cx="233.2" cy="318.8" r="1.6"/><circle cx="240.8" cy="320.5" r="1.6"/><circle cx="233.3" cy="321.5" r="1.6"/><circle cx="224.3" cy="319.8" r="1.6"/><circle cx="231.1" cy="321.5" r="1.6"/><circle cx="235.5" cy="322.3" r="1.6"/><circle cx="229.8" cy="321.5" r="1.6"/><circle cx="230.1" cy="318.3" r="1.6"/><circle cx="235.8" cy="320.5" r="1.6"/><circle cx="229.4" cy="321.9" r="1.6"/><circle cx="227.2" cy="322.5" r="1.6"/><circle cx="233.2" cy="318.1" r="1.6"/><circle cx="238.3" cy="321.8" r="1.6"/><circle cx="228.9" cy="319.7" r="1.6"/><circle cx="226.5" cy="320.7" r="1.6"/><circle cx="229.2" cy="320.3" r="1.6"/><circle cx="228.4" cy="319.3" r="1.6"/><circle cx="229.9" cy="319.7" r="1.6"/><circle cx="235.0" cy="318.5" r="1.6"/><circle cx="238.5" cy="317.9" r="1.6"/><circle cx="231.3" cy="317.0" r="1.6"/><circle cx="226.8" cy="318.9" r="1.6"/><circle cx="238.2" cy="314.5" r="1.6"/><circle cx="234.1" cy="318.7" r="1.6"/><circle cx="240.2" cy="319.9" r="1.6"/><circle cx="236.6" cy="319.6" r="1.6"/><circle cx="224.2" cy="320.6" r="1.6"/><circle cx="234.2" cy="320.9" r="1.6"/><circle cx="226.8" cy="320.1" r="1.6"/><circle cx="225.8" cy="318.8" r="1.6"/><circle cx="226.8" cy="324.6" r="1.6"/><circle cx="230.0" cy="318.2" r="1.6"/><circle cx="233.9" cy="320.5" r="1.6"/><circle cx="242.0" cy="320.9" r="1.6"/><circle cx="235.1" cy="320.3" r="1.6"/><circle cx="230.7" cy="319.5" r="1.6"/><circle cx="224.6" cy="319.0" r="1.6"/><circle cx="230.3" cy="323.0" r="1.6"/><circle cx="244.0" cy="319.8" r="1.6"/><circle cx="221.2" cy="323.6" r="1.6"/><circle cx="238.1" cy="320.1" r="1.6"/><circle cx="235.9" cy="317.4" r="1.6"/><circle cx="230.2" cy="322.7" r="1.6"/><circle cx="239.0" cy="316.2" r="1.6"/><circle cx="225.6" cy="323.2" r="1.6"/><circle cx="227.8" cy="317.4" r="1.6"/><circle cx="243.1" cy="319.2" r="1.6"/><circle cx="227.1" cy="322.4" r="1.6"/><circle cx="224.5" cy="320.5" r="1.6"/><circle cx="236.5" cy="322.3" r="1.6"/><circle cx="232.9" cy="320.1" r="1.6"/><circle cx="237.0" cy="319.9" r="1.6"/><circle cx="235.2" cy="318.5" r="1.6"/><circle cx="232.5" cy="319.8" r="1.6"/><circle cx="236.7" cy="316.1" r="1.6"/><circle cx="231.3" cy="322.3" r="1.6"/><circle cx="242.0" cy="321.2" r="1.6"/><circle cx="225.5" cy="317.6" r="1.6"/><circle cx="229.3" cy="317.6" r="1.6"/><circle cx="230.1" cy="323.2" r="1.6"/><circle cx="227.0" cy="320.5" r="1.6"/><circle cx="234.0" cy="321.7" r="1.6"/><circle cx="229.8" cy="320.7" r="1.6"/><circle cx="227.7" cy="318.7" r="1.6"/><circle cx="233.7" cy="319.5" r="1.6"/><circle cx="217.7" cy="318.6" r="1.6"/><circle cx="231.7" cy="319.4" r="1.6"/><circle cx="235.5" cy="320.9" r="1.6"/><circle cx="231.1" cy="322.8" r="1.6"/><circle cx="228.8" cy="324.1" r="1.6"/><circle cx="237.6" cy="321.8" r="1.6"/><circle cx="236.6" cy="324.1" r="1.6"/><circle cx="244.3" cy="318.1" r="1.6"/><circle cx="243.3" cy="322.1" r="1.6"/><circle cx="235.3" cy="320.4" r="1.6"/><circle cx="232.6" cy="315.3" r="1.6"/><circle cx="224.6" cy="319.2" r="1.6"/><circle cx="221.2" cy="321.4" r="1.6"/><circle cx="224.9" cy="322.7" r="1.6"/><circle cx="235.4" cy="320.9" r="1.6"/><circle cx="238.7" cy="318.4" r="1.6"/><circle cx="237.6" cy="320.8" r="1.6"/></g>
<rect x="32.6" y="415.5" width="124.20" height="102.30" fill="none" stroke="#777" stroke-width="0.9"/>
<line x1="30.60" y1="419.40" x2="32.60" y2="419.40" stroke="#777" stroke-width="0.8"/>
<text transform="translate(29.80,422.90) scale(0.8273,1)" font-size="8.80" text-anchor="end" fill="#2b2b2b" stroke="#2b2b2b" stroke-width="0.15">10</text>
<line x1="30.60" y1="438.30" x2="32.60" y2="438.30" stroke="#777" stroke-width="0.8"/>
<text transform="translate(29.80,441.80) scale(0.8273,1)" font-size="8.80" text-anchor="end" fill="#2b2b2b" stroke="#2b2b2b" stroke-width="0.15">8</text>
<line x1="30.60" y1="457.20" x2="32.60" y2="457.20" stroke="#777" stroke-width="0.8"/>
<text transform="translate(29.80,460.70) scale(0.8273,1)" font-size="8.80" text-anchor="end" fill="#2b2b2b" stroke="#2b2b2b" stroke-width="0.15">6</text>
<line x1="30.60" y1="476.50" x2="32.60" y2="476.50" stroke="#777" stroke-width="0.8"/>
<text transform="translate(29.80,480.00) scale(0.8273,1)" font-size="8.80" text-anchor="end" fill="#2b2b2b" stroke="#2b2b2b" stroke-width="0.15">4</text>
<line x1="30.60" y1="495.20" x2="32.60" y2="495.20" stroke="#777" stroke-width="0.8"/>
<text transform="translate(29.80,498.70) scale(0.8273,1)" font-size="8.80" text-anchor="end" fill="#2b2b2b" stroke="#2b2b2b" stroke-width="0.15">2</text>
<line x1="30.60" y1="514.60" x2="32.60" y2="514.60" stroke="#777" stroke-width="0.8"/>
<text transform="translate(29.80,518.10) scale(0.8273,1)" font-size="8.80" text-anchor="end" fill="#2b2b2b" stroke="#2b2b2b" stroke-width="0.15">0</text>
<text transform="translate(52.40,529.30) scale(0.8273,1)" font-size="8.80" text-anchor="middle" fill="#2b2b2b" stroke="#2b2b2b" stroke-width="0.15">1</text>
<text transform="translate(80.30,529.30) scale(0.8273,1)" font-size="8.80" text-anchor="middle" fill="#2b2b2b" stroke="#2b2b2b" stroke-width="0.15">2</text>
<text transform="translate(110.00,529.30) scale(0.8273,1)" font-size="8.80" text-anchor="middle" fill="#2b2b2b" stroke="#2b2b2b" stroke-width="0.15">3</text>
<text transform="translate(136.40,529.30) scale(0.8273,1)" font-size="8.80" text-anchor="middle" fill="#2b2b2b" stroke="#2b2b2b" stroke-width="0.15">4</text>
<text transform="translate(18.40,468.40) rotate(-90)" x="0" y="0" font-size="8.0" text-anchor="middle" fill="#2b2b2b" stroke="#2b2b2b" stroke-width="0.15">ESR1 microarrays (log<tspan font-size="5.60" dx="-0.2" dy="3.3">2</tspan><tspan dx="-0.2" dy="-3.3">)</tspan></text>
<text transform="translate(54.50,541.40) scale(0.9091,1)" font-size="8.80" fill="#2b2b2b" stroke="#2b2b2b" stroke-width="0.15">MYC microarrays (log<tspan font-size="6.16" dx="0.2" dy="4.6">2</tspan><tspan dx="0.3" dy="-4.6">)</tspan></text>
<text transform="translate(130.40,504.20) scale(0.9091,1)" font-size="6.49" fill="#2b2b2b" stroke="#2b2b2b" stroke-width="0.05">r=0.46</text>
<text transform="translate(126.30,512.40) scale(0.9091,1)" font-size="6.49" fill="#2b2b2b" stroke="#2b2b2b" stroke-width="0.05">P&lt;0.0001</text>
<g fill="none" stroke="#5560b8" stroke-width="0.55" stroke-opacity="0.55"><circle cx="87.7" cy="435.8" r="1.6"/><circle cx="86.5" cy="440.4" r="1.6"/><circle cx="78.8" cy="443.4" r="1.6"/><circle cx="91.8" cy="442.7" r="1.6"/><circle cx="122.0" cy="434.6" r="1.6"/><circle cx="115.4" cy="444.0" r="1.6"/><circle cx="121.3" cy="444.5" r="1.6"/><circle cx="138.8" cy="443.4" r="1.6"/><circle cx="146.4" cy="440.4" r="1.6"/><circle cx="143.6" cy="444.2" r="1.6"/><circle cx="146.9" cy="446.8" r="1.6"/><circle cx="143.9" cy="447.8" r="1.6"/><circle cx="82.4" cy="452.8" r="1.6"/><circle cx="75.8" cy="455.1" r="1.6"/><circle cx="84.7" cy="454.9" r="1.6"/><circle cx="89.0" cy="456.2" r="1.6"/><circle cx="86.5" cy="461.2" r="1.6"/><circle cx="110.6" cy="452.6" r="1.6"/><circle cx="123.6" cy="451.1" r="1.6"/><circle cx="124.6" cy="450.6" r="1.6"/><circle cx="129.7" cy="450.1" r="1.6"/><circle cx="133.0" cy="451.1" r="1.6"/><circle cx="119.7" cy="458.7" r="1.6"/><circle cx="113.9" cy="461.2" r="1.6"/><circle cx="106.3" cy="470.1" r="1.6"/><circle cx="80.9" cy="488.4" r="1.6"/><circle cx="64.4" cy="495.3" r="1.6"/><circle cx="77.1" cy="494.3" r="1.6"/><circle cx="52.4" cy="499.8" r="1.6"/><circle cx="81.8" cy="503.3" r="1.6"/><circle cx="74.6" cy="507.9" r="1.6"/><circle cx="74.4" cy="499.8" r="1.6"/><circle cx="62.4" cy="504.5" r="1.6"/><circle cx="68.4" cy="505.0" r="1.6"/><circle cx="76.9" cy="504.0" r="1.6"/><circle cx="51.9" cy="511.2" r="1.6"/><circle cx="67.1" cy="509.7" r="1.6"/><circle cx="62.8" cy="506.0" r="1.6"/><circle cx="69.4" cy="502.5" r="1.6"/><circle cx="70.7" cy="504.4" r="1.6"/><circle cx="59.9" cy="501.5" r="1.6"/><circle cx="57.9" cy="508.0" r="1.6"/><circle cx="75.0" cy="506.2" r="1.6"/><circle cx="69.5" cy="509.1" r="1.6"/><circle cx="80.4" cy="506.1" r="1.6"/><circle cx="69.5" cy="509.8" r="1.6"/><circle cx="73.0" cy="504.5" r="1.6"/><circle cx="61.0" cy="502.2" r="1.6"/><circle cx="63.5" cy="505.6" r="1.6"/><circle cx="69.7" cy="509.3" r="1.6"/><circle cx="75.9" cy="509.9" r="1.6"/><circle cx="67.7" cy="503.9" r="1.6"/><circle cx="74.0" cy="505.4" r="1.6"/><circle cx="71.1" cy="505.8" r="1.6"/><circle cx="63.8" cy="503.2" r="1.6"/><circle cx="65.0" cy="503.8" r="1.6"/><circle cx="80.3" cy="504.0" r="1.6"/><circle cx="71.6" cy="506.7" r="1.6"/><circle cx="66.6" cy="506.6" r="1.6"/><circle cx="74.9" cy="501.6" r="1.6"/><circle cx="71.8" cy="504.8" r="1.6"/><circle cx="75.1" cy="504.6" r="1.6"/><circle cx="64.9" cy="503.9" r="1.6"/><circle cx="69.1" cy="506.7" r="1.6"/><circle cx="66.4" cy="505.8" r="1.6"/><circle cx="76.7" cy="503.8" r="1.6"/><circle cx="81.3" cy="503.7" r="1.6"/><circle cx="57.4" cy="504.7" r="1.6"/><circle cx="69.2" cy="505.7" r="1.6"/><circle cx="64.0" cy="506.1" r="1.6"/><circle cx="78.1" cy="507.8" r="1.6"/><circle cx="69.5" cy="502.5" r="1.6"/><circle cx="83.8" cy="507.9" r="1.6"/><circle cx="69.5" cy="508.3" r="1.6"/><circle cx="80.6" cy="506.0" r="1.6"/><circle cx="62.9" cy="506.2" r="1.6"/><circle cx="62.4" cy="504.9" r="1.6"/><circle cx="80.4" cy="505.5" r="1.6"/><circle cx="60.9" cy="505.8" r="1.6"/><circle cx="68.8" cy="503.3" r="1.6"/><circle cx="70.1" cy="510.3" r="1.6"/><circle cx="77.1" cy="506.6" r="1.6"/><circle cx="74.3" cy="509.8" r="1.6"/><circle cx="55.9" cy="507.5" r="1.6"/><circle cx="66.9" cy="506.8" r="1.6"/><circle cx="68.1" cy="504.4" r="1.6"/><circle cx="51.2" cy="506.0" r="1.6"/><circle cx="74.0" cy="503.5" r="1.6"/><circle cx="55.1" cy="504.8" r="1.6"/><circle cx="50.7" cy="503.5" r="1.6"/><circle cx="72.2" cy="506.9" r="1.6"/><circle cx="74.4" cy="506.4" r="1.6"/><circle cx="68.8" cy="506.4" r="1.6"/><circle cx="76.8" cy="507.5" r="1.6"/><circle cx="72.1" cy="506.1" r="1.6"/><circle cx="73.7" cy="502.8" r="1.6"/><circle cx="68.3" cy="502.0" r="1.6"/><circle cx="64.4" cy="500.1" r="1.6"/><circle cx="66.8" cy="507.0" r="1.6"/><circle cx="72.8" cy="507.4" r="1.6"/><circle cx="73.2" cy="506.0" r="1.6"/><circle cx="51.9" cy="504.2" r="1.6"/><circle cx="69.9" cy="504.2" r="1.6"/><circle cx="79.1" cy="504.5" r="1.6"/><circle cx="83.6" cy="508.1" r="1.6"/><circle cx="68.5" cy="502.1" r="1.6"/><circle cx="60.7" cy="504.1" r="1.6"/><circle cx="71.1" cy="511.6" r="1.6"/><circle cx="62.4" cy="509.5" r="1.6"/><circle cx="72.1" cy="505.0" r="1.6"/><circle cx="71.5" cy="506.3" r="1.6"/><circle cx="74.2" cy="505.5" r="1.6"/><circle cx="64.5" cy="507.2" r="1.6"/><circle cx="70.7" cy="506.4" r="1.6"/><circle cx="61.0" cy="504.1" r="1.6"/><circle cx="62.7" cy="505.8" r="1.6"/><circle cx="71.3" cy="505.4" r="1.6"/><circle cx="72.2" cy="505.4" r="1.6"/><circle cx="81.1" cy="503.8" r="1.6"/><circle cx="76.6" cy="504.2" r="1.6"/><circle cx="65.1" cy="502.6" r="1.6"/><circle cx="83.0" cy="503.5" r="1.6"/><circle cx="66.0" cy="503.1" r="1.6"/><circle cx="67.8" cy="503.1" r="1.6"/><circle cx="85.4" cy="506.2" r="1.6"/><circle cx="88.0" cy="508.5" r="1.6"/><circle cx="56.8" cy="507.0" r="1.6"/><circle cx="78.1" cy="507.5" r="1.6"/><circle cx="69.4" cy="507.4" r="1.6"/><circle cx="81.3" cy="505.9" r="1.6"/><circle cx="80.5" cy="508.7" r="1.6"/><circle cx="86.2" cy="505.4" r="1.6"/><circle cx="73.5" cy="504.8" r="1.6"/><circle cx="63.2" cy="503.1" r="1.6"/></g>
</svg></body></html>
